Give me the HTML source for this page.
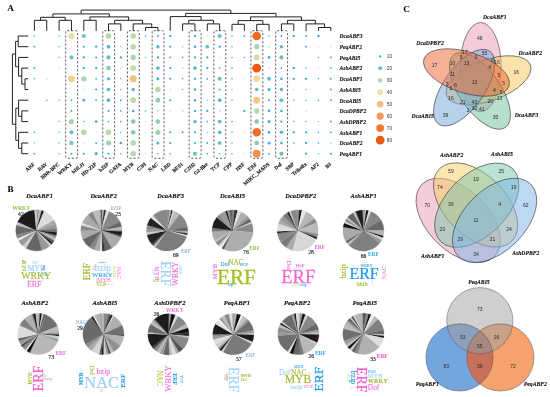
<!DOCTYPE html>
<html><head><meta charset="utf-8"><title>Figure</title>
<style>
html,body{margin:0;padding:0;background:#fff;}
body{width:550px;height:397px;overflow:hidden;}
svg{display:block;}
</style></head>
<body>
<svg width="550" height="397" viewBox="0 0 550 397">
<rect width="550" height="397" fill="#ffffff"/>
<g id="partA">
<rect x="65.70" y="30.7" width="11.9" height="127.6" rx="1.5" ry="1.5" fill="none" stroke="#4a4a4a" stroke-width="0.9" stroke-dasharray="2.1 1.9"/>
<rect x="102.75" y="30.7" width="11.9" height="127.6" rx="1.5" ry="1.5" fill="none" stroke="#4a4a4a" stroke-width="0.9" stroke-dasharray="2.1 1.9"/>
<rect x="127.45" y="30.7" width="11.9" height="127.6" rx="1.5" ry="1.5" fill="none" stroke="#4a4a4a" stroke-width="0.9" stroke-dasharray="2.1 1.9"/>
<rect x="152.15" y="30.7" width="11.9" height="127.6" rx="1.5" ry="1.5" fill="none" stroke="#4a4a4a" stroke-width="0.9" stroke-dasharray="2.1 1.9"/>
<rect x="189.20" y="30.7" width="11.9" height="127.6" rx="1.5" ry="1.5" fill="none" stroke="#4a4a4a" stroke-width="0.9" stroke-dasharray="2.1 1.9"/>
<rect x="213.90" y="30.7" width="11.9" height="127.6" rx="1.5" ry="1.5" fill="none" stroke="#4a4a4a" stroke-width="0.9" stroke-dasharray="2.1 1.9"/>
<rect x="250.95" y="30.7" width="11.9" height="127.6" rx="1.5" ry="1.5" fill="none" stroke="#4a4a4a" stroke-width="0.9" stroke-dasharray="2.1 1.9"/>
<rect x="275.65" y="30.7" width="11.9" height="127.6" rx="1.5" ry="1.5" fill="none" stroke="#4a4a4a" stroke-width="0.9" stroke-dasharray="2.1 1.9"/>
<circle cx="34.40" cy="36.00" r="0.74" fill="#2ca9e1" fill-opacity="1.00"/>
<circle cx="46.75" cy="36.00" r="0.40" fill="#2aabe2" fill-opacity="0.25"/>
<circle cx="59.10" cy="36.00" r="0.74" fill="#2ca9e1" fill-opacity="1.00"/>
<circle cx="71.45" cy="36.00" r="3.08" fill="#e6df9e" fill-opacity="1.00"/>
<circle cx="83.80" cy="36.00" r="2.05" fill="#6ac0c4" fill-opacity="1.00"/>
<circle cx="96.15" cy="36.00" r="0.49" fill="#2aaae2" fill-opacity="0.40"/>
<circle cx="108.50" cy="36.00" r="2.74" fill="#b4d9ac" fill-opacity="1.00"/>
<circle cx="120.85" cy="36.00" r="0.57" fill="#2aaae1" fill-opacity="0.60"/>
<circle cx="133.20" cy="36.00" r="2.83" fill="#c1daa8" fill-opacity="1.00"/>
<circle cx="145.55" cy="36.00" r="0.74" fill="#2ca9e1" fill-opacity="1.00"/>
<circle cx="157.90" cy="36.00" r="0.98" fill="#2da8e0" fill-opacity="1.00"/>
<circle cx="170.25" cy="36.00" r="1.15" fill="#2ea7e0" fill-opacity="1.00"/>
<circle cx="194.95" cy="36.00" r="1.15" fill="#2ea7e0" fill-opacity="1.00"/>
<circle cx="207.30" cy="36.00" r="0.57" fill="#2aaae1" fill-opacity="0.60"/>
<circle cx="219.65" cy="36.00" r="2.05" fill="#6ac0c4" fill-opacity="1.00"/>
<circle cx="232.00" cy="36.00" r="0.74" fill="#2ca9e1" fill-opacity="1.00"/>
<circle cx="244.35" cy="36.00" r="0.98" fill="#2da8e0" fill-opacity="1.00"/>
<circle cx="256.70" cy="36.00" r="4.36" fill="#ec6823" fill-opacity="1.00"/>
<circle cx="269.05" cy="36.00" r="0.74" fill="#2ca9e1" fill-opacity="1.00"/>
<circle cx="281.40" cy="36.00" r="0.98" fill="#2da8e0" fill-opacity="1.00"/>
<circle cx="293.75" cy="36.00" r="1.15" fill="#2ea7e0" fill-opacity="1.00"/>
<circle cx="306.10" cy="36.00" r="0.90" fill="#2ca8e1" fill-opacity="1.00"/>
<circle cx="318.45" cy="36.00" r="1.15" fill="#2ea7e0" fill-opacity="1.00"/>
<circle cx="34.40" cy="46.70" r="0.90" fill="#2ca8e1" fill-opacity="1.00"/>
<circle cx="59.10" cy="46.70" r="0.74" fill="#2ca9e1" fill-opacity="1.00"/>
<circle cx="71.45" cy="46.70" r="0.57" fill="#2aaae1" fill-opacity="0.60"/>
<circle cx="83.80" cy="46.70" r="0.98" fill="#2da8e0" fill-opacity="1.00"/>
<circle cx="96.15" cy="46.70" r="1.15" fill="#2ea7e0" fill-opacity="1.00"/>
<circle cx="108.50" cy="46.70" r="1.87" fill="#5ebbca" fill-opacity="1.00"/>
<circle cx="120.85" cy="46.70" r="0.65" fill="#2ba9e1" fill-opacity="0.80"/>
<circle cx="133.20" cy="46.70" r="2.74" fill="#b4d9ac" fill-opacity="1.00"/>
<circle cx="145.55" cy="46.70" r="0.49" fill="#2aaae2" fill-opacity="0.40"/>
<circle cx="157.90" cy="46.70" r="1.69" fill="#52b6cf" fill-opacity="1.00"/>
<circle cx="170.25" cy="46.70" r="0.98" fill="#2da8e0" fill-opacity="1.00"/>
<circle cx="182.60" cy="46.70" r="0.65" fill="#2ba9e1" fill-opacity="0.80"/>
<circle cx="194.95" cy="46.70" r="1.24" fill="#34aadd" fill-opacity="1.00"/>
<circle cx="207.30" cy="46.70" r="1.87" fill="#5ebbca" fill-opacity="1.00"/>
<circle cx="219.65" cy="46.70" r="1.15" fill="#2ea7e0" fill-opacity="1.00"/>
<circle cx="232.00" cy="46.70" r="0.74" fill="#2ca9e1" fill-opacity="1.00"/>
<circle cx="256.70" cy="46.70" r="2.60" fill="#a5d4b1" fill-opacity="1.00"/>
<circle cx="269.05" cy="46.70" r="0.65" fill="#2ba9e1" fill-opacity="0.80"/>
<circle cx="281.40" cy="46.70" r="1.78" fill="#58b8cc" fill-opacity="1.00"/>
<circle cx="306.10" cy="46.70" r="0.90" fill="#2ca8e1" fill-opacity="1.00"/>
<circle cx="318.45" cy="46.70" r="0.57" fill="#2aaae1" fill-opacity="0.60"/>
<circle cx="330.80" cy="46.70" r="0.57" fill="#2aaae1" fill-opacity="0.60"/>
<circle cx="34.40" cy="57.40" r="0.49" fill="#2aaae2" fill-opacity="0.40"/>
<circle cx="46.75" cy="57.40" r="0.49" fill="#2aaae2" fill-opacity="0.40"/>
<circle cx="59.10" cy="57.40" r="0.74" fill="#2ca9e1" fill-opacity="1.00"/>
<circle cx="71.45" cy="57.40" r="2.05" fill="#6ac0c4" fill-opacity="1.00"/>
<circle cx="83.80" cy="57.40" r="1.15" fill="#2ea7e0" fill-opacity="1.00"/>
<circle cx="96.15" cy="57.40" r="0.98" fill="#2da8e0" fill-opacity="1.00"/>
<circle cx="108.50" cy="57.40" r="2.05" fill="#6ac0c4" fill-opacity="1.00"/>
<circle cx="120.85" cy="57.40" r="1.15" fill="#2ea7e0" fill-opacity="1.00"/>
<circle cx="133.20" cy="57.40" r="2.60" fill="#a5d4b1" fill-opacity="1.00"/>
<circle cx="145.55" cy="57.40" r="0.65" fill="#2ba9e1" fill-opacity="0.80"/>
<circle cx="157.90" cy="57.40" r="1.15" fill="#2ea7e0" fill-opacity="1.00"/>
<circle cx="170.25" cy="57.40" r="0.90" fill="#2ca8e1" fill-opacity="1.00"/>
<circle cx="182.60" cy="57.40" r="0.82" fill="#2ca9e1" fill-opacity="1.00"/>
<circle cx="194.95" cy="57.40" r="1.07" fill="#2ea7e0" fill-opacity="1.00"/>
<circle cx="207.30" cy="57.40" r="1.07" fill="#2ea7e0" fill-opacity="1.00"/>
<circle cx="219.65" cy="57.40" r="0.57" fill="#2aaae1" fill-opacity="0.60"/>
<circle cx="232.00" cy="57.40" r="0.74" fill="#2ca9e1" fill-opacity="1.00"/>
<circle cx="244.35" cy="57.40" r="0.74" fill="#2ca9e1" fill-opacity="1.00"/>
<circle cx="256.70" cy="57.40" r="2.96" fill="#d4dca3" fill-opacity="1.00"/>
<circle cx="269.05" cy="57.40" r="1.33" fill="#3aacda" fill-opacity="1.00"/>
<circle cx="281.40" cy="57.40" r="2.05" fill="#6ac0c4" fill-opacity="1.00"/>
<circle cx="318.45" cy="57.40" r="0.74" fill="#2ca9e1" fill-opacity="1.00"/>
<circle cx="330.80" cy="57.40" r="0.90" fill="#2ca8e1" fill-opacity="1.00"/>
<circle cx="34.40" cy="68.10" r="0.98" fill="#2da8e0" fill-opacity="1.00"/>
<circle cx="59.10" cy="68.10" r="0.57" fill="#2aaae1" fill-opacity="0.60"/>
<circle cx="71.45" cy="68.10" r="0.49" fill="#2aaae2" fill-opacity="0.40"/>
<circle cx="83.80" cy="68.10" r="1.15" fill="#2ea7e0" fill-opacity="1.00"/>
<circle cx="96.15" cy="68.10" r="1.15" fill="#2ea7e0" fill-opacity="1.00"/>
<circle cx="108.50" cy="68.10" r="2.40" fill="#8fccb8" fill-opacity="1.00"/>
<circle cx="120.85" cy="68.10" r="0.65" fill="#2ba9e1" fill-opacity="0.80"/>
<circle cx="133.20" cy="68.10" r="2.87" fill="#c7dba7" fill-opacity="1.00"/>
<circle cx="145.55" cy="68.10" r="0.49" fill="#2aaae2" fill-opacity="0.40"/>
<circle cx="157.90" cy="68.10" r="1.87" fill="#5ebbca" fill-opacity="1.00"/>
<circle cx="170.25" cy="68.10" r="1.07" fill="#2ea7e0" fill-opacity="1.00"/>
<circle cx="182.60" cy="68.10" r="0.65" fill="#2ba9e1" fill-opacity="0.80"/>
<circle cx="194.95" cy="68.10" r="1.87" fill="#5ebbca" fill-opacity="1.00"/>
<circle cx="207.30" cy="68.10" r="1.15" fill="#2ea7e0" fill-opacity="1.00"/>
<circle cx="219.65" cy="68.10" r="0.82" fill="#2ca9e1" fill-opacity="1.00"/>
<circle cx="232.00" cy="68.10" r="0.82" fill="#2ca9e1" fill-opacity="1.00"/>
<circle cx="244.35" cy="68.10" r="0.49" fill="#2aaae2" fill-opacity="0.40"/>
<circle cx="256.70" cy="68.10" r="4.47" fill="#ea5a14" fill-opacity="1.00"/>
<circle cx="269.05" cy="68.10" r="0.65" fill="#2ba9e1" fill-opacity="0.80"/>
<circle cx="281.40" cy="68.10" r="0.90" fill="#2ca8e1" fill-opacity="1.00"/>
<circle cx="293.75" cy="68.10" r="1.24" fill="#34aadd" fill-opacity="1.00"/>
<circle cx="306.10" cy="68.10" r="0.74" fill="#2ca9e1" fill-opacity="1.00"/>
<circle cx="318.45" cy="68.10" r="0.57" fill="#2aaae1" fill-opacity="0.60"/>
<circle cx="330.80" cy="68.10" r="0.82" fill="#2ca9e1" fill-opacity="1.00"/>
<circle cx="34.40" cy="78.80" r="0.74" fill="#2ca9e1" fill-opacity="1.00"/>
<circle cx="46.75" cy="78.80" r="0.65" fill="#2ba9e1" fill-opacity="0.80"/>
<circle cx="71.45" cy="78.80" r="3.35" fill="#f4ce8b" fill-opacity="1.00"/>
<circle cx="83.80" cy="78.80" r="2.60" fill="#a5d4b1" fill-opacity="1.00"/>
<circle cx="96.15" cy="78.80" r="0.90" fill="#2ca8e1" fill-opacity="1.00"/>
<circle cx="108.50" cy="78.80" r="1.60" fill="#4cb4d2" fill-opacity="1.00"/>
<circle cx="120.85" cy="78.80" r="0.74" fill="#2ca9e1" fill-opacity="1.00"/>
<circle cx="133.20" cy="78.80" r="3.50" fill="#f5c07f" fill-opacity="1.00"/>
<circle cx="145.55" cy="78.80" r="0.49" fill="#2aaae2" fill-opacity="0.40"/>
<circle cx="157.90" cy="78.80" r="1.51" fill="#46b1d5" fill-opacity="1.00"/>
<circle cx="170.25" cy="78.80" r="1.07" fill="#2ea7e0" fill-opacity="1.00"/>
<circle cx="182.60" cy="78.80" r="0.82" fill="#2ca9e1" fill-opacity="1.00"/>
<circle cx="194.95" cy="78.80" r="1.15" fill="#2ea7e0" fill-opacity="1.00"/>
<circle cx="207.30" cy="78.80" r="0.90" fill="#2ca8e1" fill-opacity="1.00"/>
<circle cx="219.65" cy="78.80" r="2.05" fill="#6ac0c4" fill-opacity="1.00"/>
<circle cx="232.00" cy="78.80" r="0.82" fill="#2ca9e1" fill-opacity="1.00"/>
<circle cx="244.35" cy="78.80" r="0.57" fill="#2aaae1" fill-opacity="0.60"/>
<circle cx="256.70" cy="78.80" r="3.24" fill="#f3d994" fill-opacity="1.00"/>
<circle cx="269.05" cy="78.80" r="1.96" fill="#64bec7" fill-opacity="1.00"/>
<circle cx="281.40" cy="78.80" r="1.24" fill="#34aadd" fill-opacity="1.00"/>
<circle cx="293.75" cy="78.80" r="1.15" fill="#2ea7e0" fill-opacity="1.00"/>
<circle cx="306.10" cy="78.80" r="1.15" fill="#2ea7e0" fill-opacity="1.00"/>
<circle cx="318.45" cy="78.80" r="0.74" fill="#2ca9e1" fill-opacity="1.00"/>
<circle cx="330.80" cy="78.80" r="0.98" fill="#2da8e0" fill-opacity="1.00"/>
<circle cx="34.40" cy="89.50" r="0.49" fill="#2aaae2" fill-opacity="0.40"/>
<circle cx="46.75" cy="89.50" r="0.49" fill="#2aaae2" fill-opacity="0.40"/>
<circle cx="83.80" cy="89.50" r="0.57" fill="#2aaae1" fill-opacity="0.60"/>
<circle cx="96.15" cy="89.50" r="1.07" fill="#2ea7e0" fill-opacity="1.00"/>
<circle cx="108.50" cy="89.50" r="1.87" fill="#5ebbca" fill-opacity="1.00"/>
<circle cx="120.85" cy="89.50" r="0.74" fill="#2ca9e1" fill-opacity="1.00"/>
<circle cx="133.20" cy="89.50" r="1.78" fill="#58b8cc" fill-opacity="1.00"/>
<circle cx="157.90" cy="89.50" r="2.74" fill="#b4d9ac" fill-opacity="1.00"/>
<circle cx="170.25" cy="89.50" r="0.57" fill="#2aaae1" fill-opacity="0.60"/>
<circle cx="182.60" cy="89.50" r="0.65" fill="#2ba9e1" fill-opacity="0.80"/>
<circle cx="194.95" cy="89.50" r="1.24" fill="#34aadd" fill-opacity="1.00"/>
<circle cx="219.65" cy="89.50" r="0.98" fill="#2da8e0" fill-opacity="1.00"/>
<circle cx="232.00" cy="89.50" r="0.65" fill="#2ba9e1" fill-opacity="0.80"/>
<circle cx="244.35" cy="89.50" r="0.49" fill="#2aaae2" fill-opacity="0.40"/>
<circle cx="256.70" cy="89.50" r="1.78" fill="#58b8cc" fill-opacity="1.00"/>
<circle cx="269.05" cy="89.50" r="1.51" fill="#46b1d5" fill-opacity="1.00"/>
<circle cx="281.40" cy="89.50" r="1.69" fill="#52b6cf" fill-opacity="1.00"/>
<circle cx="293.75" cy="89.50" r="0.57" fill="#2aaae1" fill-opacity="0.60"/>
<circle cx="306.10" cy="89.50" r="0.65" fill="#2ba9e1" fill-opacity="0.80"/>
<circle cx="318.45" cy="89.50" r="0.49" fill="#2aaae2" fill-opacity="0.40"/>
<circle cx="330.80" cy="89.50" r="0.90" fill="#2ca8e1" fill-opacity="1.00"/>
<circle cx="46.75" cy="100.20" r="0.82" fill="#2ca9e1" fill-opacity="1.00"/>
<circle cx="59.10" cy="100.20" r="0.74" fill="#2ca9e1" fill-opacity="1.00"/>
<circle cx="71.45" cy="100.20" r="0.90" fill="#2ca8e1" fill-opacity="1.00"/>
<circle cx="83.80" cy="100.20" r="1.33" fill="#3aacda" fill-opacity="1.00"/>
<circle cx="96.15" cy="100.20" r="0.90" fill="#2ca8e1" fill-opacity="1.00"/>
<circle cx="108.50" cy="100.20" r="1.87" fill="#5ebbca" fill-opacity="1.00"/>
<circle cx="120.85" cy="100.20" r="0.90" fill="#2ca8e1" fill-opacity="1.00"/>
<circle cx="133.20" cy="100.20" r="2.83" fill="#c1daa8" fill-opacity="1.00"/>
<circle cx="145.55" cy="100.20" r="0.57" fill="#2aaae1" fill-opacity="0.60"/>
<circle cx="157.90" cy="100.20" r="2.46" fill="#96cfb6" fill-opacity="1.00"/>
<circle cx="170.25" cy="100.20" r="1.07" fill="#2ea7e0" fill-opacity="1.00"/>
<circle cx="194.95" cy="100.20" r="1.24" fill="#34aadd" fill-opacity="1.00"/>
<circle cx="207.30" cy="100.20" r="0.65" fill="#2ba9e1" fill-opacity="0.80"/>
<circle cx="219.65" cy="100.20" r="1.87" fill="#5ebbca" fill-opacity="1.00"/>
<circle cx="232.00" cy="100.20" r="0.74" fill="#2ca9e1" fill-opacity="1.00"/>
<circle cx="256.70" cy="100.20" r="3.43" fill="#f4c785" fill-opacity="1.00"/>
<circle cx="269.05" cy="100.20" r="0.98" fill="#2da8e0" fill-opacity="1.00"/>
<circle cx="281.40" cy="100.20" r="2.05" fill="#6ac0c4" fill-opacity="1.00"/>
<circle cx="293.75" cy="100.20" r="0.74" fill="#2ca9e1" fill-opacity="1.00"/>
<circle cx="306.10" cy="100.20" r="0.82" fill="#2ca9e1" fill-opacity="1.00"/>
<circle cx="318.45" cy="100.20" r="0.82" fill="#2ca9e1" fill-opacity="1.00"/>
<circle cx="330.80" cy="100.20" r="0.90" fill="#2ca8e1" fill-opacity="1.00"/>
<circle cx="59.10" cy="110.90" r="0.49" fill="#2aaae2" fill-opacity="0.40"/>
<circle cx="71.45" cy="110.90" r="0.98" fill="#2da8e0" fill-opacity="1.00"/>
<circle cx="96.15" cy="110.90" r="0.49" fill="#2aaae2" fill-opacity="0.40"/>
<circle cx="108.50" cy="110.90" r="0.98" fill="#2da8e0" fill-opacity="1.00"/>
<circle cx="120.85" cy="110.90" r="0.82" fill="#2ca9e1" fill-opacity="1.00"/>
<circle cx="133.20" cy="110.90" r="1.24" fill="#34aadd" fill-opacity="1.00"/>
<circle cx="145.55" cy="110.90" r="0.74" fill="#2ca9e1" fill-opacity="1.00"/>
<circle cx="157.90" cy="110.90" r="0.65" fill="#2ba9e1" fill-opacity="0.80"/>
<circle cx="170.25" cy="110.90" r="0.57" fill="#2aaae1" fill-opacity="0.60"/>
<circle cx="182.60" cy="110.90" r="0.65" fill="#2ba9e1" fill-opacity="0.80"/>
<circle cx="194.95" cy="110.90" r="1.15" fill="#2ea7e0" fill-opacity="1.00"/>
<circle cx="207.30" cy="110.90" r="1.15" fill="#2ea7e0" fill-opacity="1.00"/>
<circle cx="219.65" cy="110.90" r="0.65" fill="#2ba9e1" fill-opacity="0.80"/>
<circle cx="244.35" cy="110.90" r="1.15" fill="#2ea7e0" fill-opacity="1.00"/>
<circle cx="256.70" cy="110.90" r="2.74" fill="#b4d9ac" fill-opacity="1.00"/>
<circle cx="269.05" cy="110.90" r="1.33" fill="#3aacda" fill-opacity="1.00"/>
<circle cx="281.40" cy="110.90" r="1.24" fill="#34aadd" fill-opacity="1.00"/>
<circle cx="306.10" cy="110.90" r="0.57" fill="#2aaae1" fill-opacity="0.60"/>
<circle cx="318.45" cy="110.90" r="0.49" fill="#2aaae2" fill-opacity="0.40"/>
<circle cx="330.80" cy="110.90" r="0.49" fill="#2aaae2" fill-opacity="0.40"/>
<circle cx="34.40" cy="121.60" r="0.49" fill="#2aaae2" fill-opacity="0.40"/>
<circle cx="46.75" cy="121.60" r="0.49" fill="#2aaae2" fill-opacity="0.40"/>
<circle cx="59.10" cy="121.60" r="0.74" fill="#2ca9e1" fill-opacity="1.00"/>
<circle cx="71.45" cy="121.60" r="2.60" fill="#a5d4b1" fill-opacity="1.00"/>
<circle cx="83.80" cy="121.60" r="0.74" fill="#2ca9e1" fill-opacity="1.00"/>
<circle cx="96.15" cy="121.60" r="1.33" fill="#3aacda" fill-opacity="1.00"/>
<circle cx="108.50" cy="121.60" r="0.82" fill="#2ca9e1" fill-opacity="1.00"/>
<circle cx="120.85" cy="121.60" r="0.82" fill="#2ca9e1" fill-opacity="1.00"/>
<circle cx="133.20" cy="121.60" r="2.33" fill="#88caba" fill-opacity="1.00"/>
<circle cx="145.55" cy="121.60" r="0.57" fill="#2aaae1" fill-opacity="0.60"/>
<circle cx="157.90" cy="121.60" r="2.40" fill="#8fccb8" fill-opacity="1.00"/>
<circle cx="170.25" cy="121.60" r="0.49" fill="#2aaae2" fill-opacity="0.40"/>
<circle cx="194.95" cy="121.60" r="1.60" fill="#4cb4d2" fill-opacity="1.00"/>
<circle cx="207.30" cy="121.60" r="0.82" fill="#2ca9e1" fill-opacity="1.00"/>
<circle cx="219.65" cy="121.60" r="1.87" fill="#5ebbca" fill-opacity="1.00"/>
<circle cx="232.00" cy="121.60" r="0.82" fill="#2ca9e1" fill-opacity="1.00"/>
<circle cx="256.70" cy="121.60" r="2.26" fill="#80c8bd" fill-opacity="1.00"/>
<circle cx="269.05" cy="121.60" r="1.51" fill="#46b1d5" fill-opacity="1.00"/>
<circle cx="281.40" cy="121.60" r="1.15" fill="#2ea7e0" fill-opacity="1.00"/>
<circle cx="293.75" cy="121.60" r="0.74" fill="#2ca9e1" fill-opacity="1.00"/>
<circle cx="306.10" cy="121.60" r="0.74" fill="#2ca9e1" fill-opacity="1.00"/>
<circle cx="318.45" cy="121.60" r="0.65" fill="#2ba9e1" fill-opacity="0.80"/>
<circle cx="330.80" cy="121.60" r="0.98" fill="#2da8e0" fill-opacity="1.00"/>
<circle cx="34.40" cy="132.30" r="0.82" fill="#2ca9e1" fill-opacity="1.00"/>
<circle cx="59.10" cy="132.30" r="0.74" fill="#2ca9e1" fill-opacity="1.00"/>
<circle cx="71.45" cy="132.30" r="2.05" fill="#6ac0c4" fill-opacity="1.00"/>
<circle cx="83.80" cy="132.30" r="2.74" fill="#b4d9ac" fill-opacity="1.00"/>
<circle cx="96.15" cy="132.30" r="0.57" fill="#2aaae1" fill-opacity="0.60"/>
<circle cx="108.50" cy="132.30" r="2.83" fill="#c1daa8" fill-opacity="1.00"/>
<circle cx="120.85" cy="132.30" r="0.74" fill="#2ca9e1" fill-opacity="1.00"/>
<circle cx="133.20" cy="132.30" r="2.40" fill="#8fccb8" fill-opacity="1.00"/>
<circle cx="145.55" cy="132.30" r="0.57" fill="#2aaae1" fill-opacity="0.60"/>
<circle cx="157.90" cy="132.30" r="2.60" fill="#a5d4b1" fill-opacity="1.00"/>
<circle cx="170.25" cy="132.30" r="1.07" fill="#2ea7e0" fill-opacity="1.00"/>
<circle cx="182.60" cy="132.30" r="0.98" fill="#2da8e0" fill-opacity="1.00"/>
<circle cx="194.95" cy="132.30" r="1.07" fill="#2ea7e0" fill-opacity="1.00"/>
<circle cx="207.30" cy="132.30" r="0.65" fill="#2ba9e1" fill-opacity="0.80"/>
<circle cx="219.65" cy="132.30" r="1.87" fill="#5ebbca" fill-opacity="1.00"/>
<circle cx="232.00" cy="132.30" r="0.74" fill="#2ca9e1" fill-opacity="1.00"/>
<circle cx="244.35" cy="132.30" r="0.57" fill="#2aaae1" fill-opacity="0.60"/>
<circle cx="256.70" cy="132.30" r="4.30" fill="#ee6e2b" fill-opacity="1.00"/>
<circle cx="269.05" cy="132.30" r="1.33" fill="#3aacda" fill-opacity="1.00"/>
<circle cx="281.40" cy="132.30" r="1.69" fill="#52b6cf" fill-opacity="1.00"/>
<circle cx="293.75" cy="132.30" r="1.15" fill="#2ea7e0" fill-opacity="1.00"/>
<circle cx="306.10" cy="132.30" r="1.15" fill="#2ea7e0" fill-opacity="1.00"/>
<circle cx="318.45" cy="132.30" r="0.74" fill="#2ca9e1" fill-opacity="1.00"/>
<circle cx="330.80" cy="132.30" r="0.90" fill="#2ca8e1" fill-opacity="1.00"/>
<circle cx="34.40" cy="143.00" r="0.65" fill="#2ba9e1" fill-opacity="0.80"/>
<circle cx="59.10" cy="143.00" r="0.74" fill="#2ca9e1" fill-opacity="1.00"/>
<circle cx="71.45" cy="143.00" r="2.19" fill="#79c5bf" fill-opacity="1.00"/>
<circle cx="83.80" cy="143.00" r="0.57" fill="#2aaae1" fill-opacity="0.60"/>
<circle cx="96.15" cy="143.00" r="0.90" fill="#2ca8e1" fill-opacity="1.00"/>
<circle cx="108.50" cy="143.00" r="2.53" fill="#9ed2b3" fill-opacity="1.00"/>
<circle cx="120.85" cy="143.00" r="1.33" fill="#3aacda" fill-opacity="1.00"/>
<circle cx="133.20" cy="143.00" r="2.74" fill="#b4d9ac" fill-opacity="1.00"/>
<circle cx="157.90" cy="143.00" r="1.51" fill="#46b1d5" fill-opacity="1.00"/>
<circle cx="170.25" cy="143.00" r="1.07" fill="#2ea7e0" fill-opacity="1.00"/>
<circle cx="194.95" cy="143.00" r="0.98" fill="#2da8e0" fill-opacity="1.00"/>
<circle cx="207.30" cy="143.00" r="0.90" fill="#2ca8e1" fill-opacity="1.00"/>
<circle cx="219.65" cy="143.00" r="1.87" fill="#5ebbca" fill-opacity="1.00"/>
<circle cx="232.00" cy="143.00" r="0.74" fill="#2ca9e1" fill-opacity="1.00"/>
<circle cx="256.70" cy="143.00" r="2.33" fill="#88caba" fill-opacity="1.00"/>
<circle cx="269.05" cy="143.00" r="1.51" fill="#46b1d5" fill-opacity="1.00"/>
<circle cx="281.40" cy="143.00" r="1.24" fill="#34aadd" fill-opacity="1.00"/>
<circle cx="293.75" cy="143.00" r="0.82" fill="#2ca9e1" fill-opacity="1.00"/>
<circle cx="306.10" cy="143.00" r="1.15" fill="#2ea7e0" fill-opacity="1.00"/>
<circle cx="318.45" cy="143.00" r="0.82" fill="#2ca9e1" fill-opacity="1.00"/>
<circle cx="330.80" cy="143.00" r="0.65" fill="#2ba9e1" fill-opacity="0.80"/>
<circle cx="34.40" cy="153.70" r="0.90" fill="#2ca8e1" fill-opacity="1.00"/>
<circle cx="59.10" cy="153.70" r="0.74" fill="#2ca9e1" fill-opacity="1.00"/>
<circle cx="71.45" cy="153.70" r="0.98" fill="#2da8e0" fill-opacity="1.00"/>
<circle cx="83.80" cy="153.70" r="1.07" fill="#2ea7e0" fill-opacity="1.00"/>
<circle cx="96.15" cy="153.70" r="1.60" fill="#4cb4d2" fill-opacity="1.00"/>
<circle cx="108.50" cy="153.70" r="1.07" fill="#2ea7e0" fill-opacity="1.00"/>
<circle cx="120.85" cy="153.70" r="0.82" fill="#2ca9e1" fill-opacity="1.00"/>
<circle cx="133.20" cy="153.70" r="2.74" fill="#b4d9ac" fill-opacity="1.00"/>
<circle cx="145.55" cy="153.70" r="0.57" fill="#2aaae1" fill-opacity="0.60"/>
<circle cx="157.90" cy="153.70" r="0.74" fill="#2ca9e1" fill-opacity="1.00"/>
<circle cx="170.25" cy="153.70" r="0.82" fill="#2ca9e1" fill-opacity="1.00"/>
<circle cx="194.95" cy="153.70" r="2.05" fill="#6ac0c4" fill-opacity="1.00"/>
<circle cx="207.30" cy="153.70" r="0.82" fill="#2ca9e1" fill-opacity="1.00"/>
<circle cx="219.65" cy="153.70" r="0.82" fill="#2ca9e1" fill-opacity="1.00"/>
<circle cx="232.00" cy="153.70" r="0.74" fill="#2ca9e1" fill-opacity="1.00"/>
<circle cx="244.35" cy="153.70" r="0.57" fill="#2aaae1" fill-opacity="0.60"/>
<circle cx="256.70" cy="153.70" r="3.97" fill="#f19252" fill-opacity="1.00"/>
<circle cx="269.05" cy="153.70" r="0.90" fill="#2ca8e1" fill-opacity="1.00"/>
<circle cx="281.40" cy="153.70" r="2.05" fill="#6ac0c4" fill-opacity="1.00"/>
<circle cx="306.10" cy="153.70" r="1.15" fill="#2ea7e0" fill-opacity="1.00"/>
<circle cx="318.45" cy="153.70" r="0.65" fill="#2ba9e1" fill-opacity="0.80"/>
<circle cx="330.80" cy="153.70" r="1.07" fill="#2ea7e0" fill-opacity="1.00"/>
<path d="M34.40 30.90V20.30H46.75V30.90M59.10 30.90V20.30H71.45V30.90M40.58 20.30V17.30H65.27V20.30M83.80 30.90V20.30H96.15V30.90M108.50 30.90V23.90H120.85V30.90M145.55 30.90V27.50H157.90V30.90M133.20 30.90V23.90H151.72V27.50M114.67 23.90V20.30H142.46V23.90M89.97 20.30V16.90H128.57V20.30M52.92 17.30V13.90H109.27V16.90M182.60 30.90V23.90H194.95V30.90M207.30 30.90V23.90H219.65V30.90M188.77 23.90V20.30H213.48V23.90M170.25 30.90V16.60H201.12V20.30M232.00 30.90V24.30H244.35V30.90M256.70 30.90V24.30H269.05V30.90M238.18 24.30V20.60H262.88V24.30M281.40 30.90V23.90H293.75V30.90M318.45 30.90V27.50H330.80V30.90M306.10 30.90V23.90H324.62V27.50M287.57 23.90V20.30H315.36V23.90M250.53 20.60V16.90H301.47V20.30M185.69 16.60V13.40H276.00V16.90M81.10 13.90V10.10H230.84V13.40" fill="none" stroke="#222" stroke-width="1.0" stroke-linejoin="miter"/>
<path d="M28.20 36.00H18.20V46.70H28.20M28.20 78.80H25.00V89.50H28.20M28.20 68.10H21.80V84.15H25.00M28.20 57.40H18.60V76.12H21.80M18.20 41.35H15.60V66.76H18.60M28.20 110.90H21.80V121.60H28.20M28.20 100.20H18.60V116.25H21.80M28.20 143.00H21.80V153.70H28.20M28.20 132.30H18.60V148.35H21.80M18.60 108.22H15.80V140.32H18.60M15.60 54.06H12.40V124.27H15.80" fill="none" stroke="#222" stroke-width="1.0" stroke-linejoin="miter"/>
<text x="339.6" y="38.30" font-family='"Liberation Serif", serif' font-size="5.5" font-weight="bold" font-style="italic" fill="#111" stroke="#111" stroke-width="0.12">DcaABF3</text>
<text x="339.6" y="49.00" font-family='"Liberation Serif", serif' font-size="5.5" font-weight="bold" font-style="italic" fill="#111" stroke="#111" stroke-width="0.12">PeqABF2</text>
<text x="339.6" y="59.70" font-family='"Liberation Serif", serif' font-size="5.5" font-weight="bold" font-style="italic" fill="#111" stroke="#111" stroke-width="0.12">PeqABI5</text>
<text x="339.6" y="70.40" font-family='"Liberation Serif", serif' font-size="5.5" font-weight="bold" font-style="italic" fill="#111" stroke="#111" stroke-width="0.12">AshABF2</text>
<text x="339.6" y="81.10" font-family='"Liberation Serif", serif' font-size="5.5" font-weight="bold" font-style="italic" fill="#111" stroke="#111" stroke-width="0.12">DcaABF1</text>
<text x="339.6" y="91.80" font-family='"Liberation Serif", serif' font-size="5.5" font-weight="bold" font-style="italic" fill="#111" stroke="#111" stroke-width="0.12">AshABI5</text>
<text x="339.6" y="102.50" font-family='"Liberation Serif", serif' font-size="5.5" font-weight="bold" font-style="italic" fill="#111" stroke="#111" stroke-width="0.12">DcaABI5</text>
<text x="339.6" y="113.20" font-family='"Liberation Serif", serif' font-size="5.5" font-weight="bold" font-style="italic" fill="#111" stroke="#111" stroke-width="0.12">DcaDPBF2</text>
<text x="339.6" y="123.90" font-family='"Liberation Serif", serif' font-size="5.5" font-weight="bold" font-style="italic" fill="#111" stroke="#111" stroke-width="0.12">AshDPBF2</text>
<text x="339.6" y="134.60" font-family='"Liberation Serif", serif' font-size="5.5" font-weight="bold" font-style="italic" fill="#111" stroke="#111" stroke-width="0.12">AshABF1</text>
<text x="339.6" y="145.30" font-family='"Liberation Serif", serif' font-size="5.5" font-weight="bold" font-style="italic" fill="#111" stroke="#111" stroke-width="0.12">DcaABF2</text>
<text x="339.6" y="156.00" font-family='"Liberation Serif", serif' font-size="5.5" font-weight="bold" font-style="italic" fill="#111" stroke="#111" stroke-width="0.12">PeqABF1</text>
<text transform="translate(35.20 164.80) rotate(-40)" text-anchor="end" font-family='"Liberation Serif", serif' font-size="5.2" font-weight="bold" fill="#111" stroke="#111" stroke-width="0.12">ARF</text>
<text transform="translate(47.55 164.80) rotate(-40)" text-anchor="end" font-family='"Liberation Serif", serif' font-size="5.2" font-weight="bold" fill="#111" stroke="#111" stroke-width="0.12">RAV</text>
<text transform="translate(59.90 164.80) rotate(-40)" text-anchor="end" font-family='"Liberation Serif", serif' font-size="5.2" font-weight="bold" fill="#111" stroke="#111" stroke-width="0.12">BBR-BPC</text>
<text transform="translate(72.25 164.80) rotate(-40)" text-anchor="end" font-family='"Liberation Serif", serif' font-size="5.2" font-weight="bold" fill="#111" stroke="#111" stroke-width="0.12">WRKY</text>
<text transform="translate(84.60 164.80) rotate(-40)" text-anchor="end" font-family='"Liberation Serif", serif' font-size="5.2" font-weight="bold" fill="#111" stroke="#111" stroke-width="0.12">bHLH</text>
<text transform="translate(96.95 164.80) rotate(-40)" text-anchor="end" font-family='"Liberation Serif", serif' font-size="5.2" font-weight="bold" fill="#111" stroke="#111" stroke-width="0.12">HD-ZIP</text>
<text transform="translate(109.30 164.80) rotate(-40)" text-anchor="end" font-family='"Liberation Serif", serif' font-size="5.2" font-weight="bold" fill="#111" stroke="#111" stroke-width="0.12">bZIP</text>
<text transform="translate(121.65 164.80) rotate(-40)" text-anchor="end" font-family='"Liberation Serif", serif' font-size="5.2" font-weight="bold" fill="#111" stroke="#111" stroke-width="0.12">GATA</text>
<text transform="translate(134.00 164.80) rotate(-40)" text-anchor="end" font-family='"Liberation Serif", serif' font-size="5.2" font-weight="bold" fill="#111" stroke="#111" stroke-width="0.12">MYB</text>
<text transform="translate(146.35 164.80) rotate(-40)" text-anchor="end" font-family='"Liberation Serif", serif' font-size="5.2" font-weight="bold" fill="#111" stroke="#111" stroke-width="0.12">C3H</text>
<text transform="translate(158.70 164.80) rotate(-40)" text-anchor="end" font-family='"Liberation Serif", serif' font-size="5.2" font-weight="bold" fill="#111" stroke="#111" stroke-width="0.12">NAC</text>
<text transform="translate(171.05 164.80) rotate(-40)" text-anchor="end" font-family='"Liberation Serif", serif' font-size="5.2" font-weight="bold" fill="#111" stroke="#111" stroke-width="0.12">LBD</text>
<text transform="translate(183.40 164.80) rotate(-40)" text-anchor="end" font-family='"Liberation Serif", serif' font-size="5.2" font-weight="bold" fill="#111" stroke="#111" stroke-width="0.12">BES1</text>
<text transform="translate(195.75 164.80) rotate(-40)" text-anchor="end" font-family='"Liberation Serif", serif' font-size="5.2" font-weight="bold" fill="#111" stroke="#111" stroke-width="0.12">C2H2</text>
<text transform="translate(208.10 164.80) rotate(-40)" text-anchor="end" font-family='"Liberation Serif", serif' font-size="5.2" font-weight="bold" fill="#111" stroke="#111" stroke-width="0.12">G2-like</text>
<text transform="translate(220.45 164.80) rotate(-40)" text-anchor="end" font-family='"Liberation Serif", serif' font-size="5.2" font-weight="bold" fill="#111" stroke="#111" stroke-width="0.12">TCP</text>
<text transform="translate(232.80 164.80) rotate(-40)" text-anchor="end" font-family='"Liberation Serif", serif' font-size="5.2" font-weight="bold" fill="#111" stroke="#111" stroke-width="0.12">CPP</text>
<text transform="translate(245.15 164.80) rotate(-40)" text-anchor="end" font-family='"Liberation Serif", serif' font-size="5.2" font-weight="bold" fill="#111" stroke="#111" stroke-width="0.12">HSF</text>
<text transform="translate(257.50 164.80) rotate(-40)" text-anchor="end" font-family='"Liberation Serif", serif' font-size="5.2" font-weight="bold" fill="#111" stroke="#111" stroke-width="0.12">ERF</text>
<text transform="translate(269.85 164.80) rotate(-40)" text-anchor="end" font-family='"Liberation Serif", serif' font-size="5.2" font-weight="bold" fill="#111" stroke="#111" stroke-width="0.12">MIKC_MADS</text>
<text transform="translate(282.20 164.80) rotate(-40)" text-anchor="end" font-family='"Liberation Serif", serif' font-size="5.2" font-weight="bold" fill="#111" stroke="#111" stroke-width="0.12">Dof</text>
<text transform="translate(294.55 164.80) rotate(-40)" text-anchor="end" font-family='"Liberation Serif", serif' font-size="5.2" font-weight="bold" fill="#111" stroke="#111" stroke-width="0.12">SBP</text>
<text transform="translate(306.90 164.80) rotate(-40)" text-anchor="end" font-family='"Liberation Serif", serif' font-size="5.2" font-weight="bold" fill="#111" stroke="#111" stroke-width="0.12">Trihelix</text>
<text transform="translate(319.25 164.80) rotate(-40)" text-anchor="end" font-family='"Liberation Serif", serif' font-size="5.2" font-weight="bold" fill="#111" stroke="#111" stroke-width="0.12">AP2</text>
<text transform="translate(331.60 164.80) rotate(-40)" text-anchor="end" font-family='"Liberation Serif", serif' font-size="5.2" font-weight="bold" fill="#111" stroke="#111" stroke-width="0.12">B3</text>
<circle cx="380.2" cy="56.40" r="1.15" fill="#2ea7e0"/>
<text x="386.8" y="58.10" font-family='"Liberation Sans", sans-serif' font-size="4.8" fill="#333">10</text>
<circle cx="380.2" cy="68.35" r="2.00" fill="#6ac0c4"/>
<text x="386.8" y="70.05" font-family='"Liberation Sans", sans-serif' font-size="4.8" fill="#333">20</text>
<circle cx="380.2" cy="80.30" r="2.35" fill="#b4d9ac"/>
<text x="386.8" y="82.00" font-family='"Liberation Sans", sans-serif' font-size="4.8" fill="#333">30</text>
<circle cx="380.2" cy="92.25" r="2.80" fill="#f3e09a"/>
<text x="386.8" y="93.95" font-family='"Liberation Sans", sans-serif' font-size="4.8" fill="#333">40</text>
<circle cx="380.2" cy="104.20" r="3.30" fill="#f5bc7c"/>
<text x="386.8" y="105.90" font-family='"Liberation Sans", sans-serif' font-size="4.8" fill="#333">50</text>
<circle cx="380.2" cy="116.15" r="3.60" fill="#f29c5c"/>
<text x="386.8" y="117.85" font-family='"Liberation Sans", sans-serif' font-size="4.8" fill="#333">60</text>
<circle cx="380.2" cy="128.10" r="3.90" fill="#f07c3a"/>
<text x="386.8" y="129.80" font-family='"Liberation Sans", sans-serif' font-size="4.8" fill="#333">70</text>
<circle cx="380.2" cy="140.05" r="4.40" fill="#ea5a14"/>
<text x="386.8" y="141.75" font-family='"Liberation Sans", sans-serif' font-size="4.8" fill="#333">80</text>
</g>
<text x="7.3" y="10.6" font-family='"Liberation Serif", serif' font-size="9.2" font-weight="bold" fill="#000">A</text>
<text x="7.5" y="191.8" font-family='"Liberation Serif", serif' font-size="9.2" font-weight="bold" fill="#000">B</text>
<text x="403.2" y="12.4" font-family='"Liberation Serif", serif' font-size="9.2" font-weight="bold" fill="#000">C</text>
<g id="partB">
<g>
<path d="M36.30 230.40L36.30 209.80A20.60 20.60 0 0 1 39.17 210.00Z" fill="#999" stroke="#999" stroke-width="0.25"/>
<path d="M36.30 230.40L39.17 210.00A20.60 20.60 0 0 1 41.63 210.50Z" fill="#bbb" stroke="#bbb" stroke-width="0.25"/>
<path d="M36.30 230.40L41.63 210.50A20.60 20.60 0 0 1 44.02 211.30Z" fill="#1c1c1c" stroke="#1c1c1c" stroke-width="0.25"/>
<path d="M36.30 230.40L44.02 211.30A20.60 20.60 0 0 1 54.14 220.10Z" fill="#dcdcdc" stroke="#dcdcdc" stroke-width="0.25"/>
<path d="M36.30 230.40L54.14 220.10A20.60 20.60 0 0 1 55.89 224.03Z" fill="#aaa" stroke="#aaa" stroke-width="0.25"/>
<path d="M36.30 230.40L55.89 224.03A20.60 20.60 0 0 1 56.82 228.60Z" fill="#999" stroke="#999" stroke-width="0.25"/>
<path d="M36.30 230.40L56.82 228.60A20.60 20.60 0 0 1 56.82 232.20Z" fill="#777" stroke="#777" stroke-width="0.25"/>
<path d="M36.30 230.40L56.82 232.20A20.60 20.60 0 0 1 56.20 235.73Z" fill="#222" stroke="#222" stroke-width="0.25"/>
<path d="M36.30 230.40L56.20 235.73A20.60 20.60 0 0 1 55.40 238.12Z" fill="#888" stroke="#888" stroke-width="0.25"/>
<path d="M36.30 230.40L55.40 238.12A20.60 20.60 0 0 1 54.14 240.70Z" fill="#bbb" stroke="#bbb" stroke-width="0.25"/>
<path d="M36.30 230.40L54.14 240.70A20.60 20.60 0 0 1 52.53 243.08Z" fill="#555" stroke="#555" stroke-width="0.25"/>
<path d="M36.30 230.40L52.53 243.08A20.60 20.60 0 0 1 51.37 244.45Z" fill="#111" stroke="#111" stroke-width="0.25"/>
<path d="M36.30 230.40L51.37 244.45A20.60 20.60 0 0 1 49.54 246.18Z" fill="#ccc" stroke="#ccc" stroke-width="0.25"/>
<path d="M36.30 230.40L49.54 246.18A20.60 20.60 0 0 1 41.63 250.30Z" fill="#999" stroke="#999" stroke-width="0.25"/>
<path d="M36.30 230.40L41.63 250.30A20.60 20.60 0 0 1 26.00 248.24Z" fill="#666" stroke="#666" stroke-width="0.25"/>
<path d="M36.30 230.40L26.00 248.24A20.60 20.60 0 0 1 22.52 245.71Z" fill="#ccc" stroke="#ccc" stroke-width="0.25"/>
<path d="M36.30 230.40L22.52 245.71A20.60 20.60 0 0 1 18.46 240.70Z" fill="#999" stroke="#999" stroke-width="0.25"/>
<path d="M36.30 230.40L18.46 240.70A20.60 20.60 0 0 1 17.34 238.45Z" fill="#eee" stroke="#eee" stroke-width="0.25"/>
<path d="M36.30 230.40L17.34 238.45A20.60 20.60 0 0 1 16.15 234.68Z" fill="#888" stroke="#888" stroke-width="0.25"/>
<path d="M36.30 230.40L16.15 234.68A20.60 20.60 0 0 1 16.40 225.07Z" fill="#666" stroke="#666" stroke-width="0.25"/>
<path d="M36.30 230.40L16.40 225.07A20.60 20.60 0 0 1 17.63 221.69Z" fill="#bbb" stroke="#bbb" stroke-width="0.25"/>
<path d="M36.30 230.40L17.63 221.69A20.60 20.60 0 0 1 34.50 209.88Z" fill="#1c1c1c" stroke="#1c1c1c" stroke-width="0.25"/>
<path d="M36.30 230.40L34.50 209.88A20.60 20.60 0 0 1 36.30 209.80Z" fill="#ccc" stroke="#ccc" stroke-width="0.25"/>
</g>
<g>
<path d="M101.40 230.50L101.40 209.90A20.60 20.60 0 0 1 102.48 209.93Z" fill="#444" stroke="#444" stroke-width="0.25"/>
<path d="M101.40 230.50L102.48 209.93A20.60 20.60 0 0 1 104.27 210.10Z" fill="#aaa" stroke="#aaa" stroke-width="0.25"/>
<path d="M101.40 230.50L104.27 210.10A20.60 20.60 0 0 1 106.03 210.43Z" fill="#222" stroke="#222" stroke-width="0.25"/>
<path d="M101.40 230.50L106.03 210.43A20.60 20.60 0 0 1 107.77 210.91Z" fill="#ccc" stroke="#ccc" stroke-width="0.25"/>
<path d="M101.40 230.50L107.77 210.91A20.60 20.60 0 0 1 109.12 211.40Z" fill="#eee" stroke="#eee" stroke-width="0.25"/>
<path d="M101.40 230.50L109.12 211.40A20.60 20.60 0 0 1 120.07 221.79Z" fill="#888" stroke="#888" stroke-width="0.25"/>
<path d="M101.40 230.50L120.07 221.79A20.60 20.60 0 0 1 121.69 226.92Z" fill="#666" stroke="#666" stroke-width="0.25"/>
<path d="M101.40 230.50L121.69 226.92A20.60 20.60 0 0 1 121.99 229.78Z" fill="#bbb" stroke="#bbb" stroke-width="0.25"/>
<path d="M101.40 230.50L121.99 229.78A20.60 20.60 0 0 1 121.97 231.58Z" fill="#999" stroke="#999" stroke-width="0.25"/>
<path d="M101.40 230.50L121.97 231.58A20.60 20.60 0 0 1 121.30 235.83Z" fill="#1c1c1c" stroke="#1c1c1c" stroke-width="0.25"/>
<path d="M101.40 230.50L121.30 235.83A20.60 20.60 0 0 1 120.76 237.55Z" fill="#555" stroke="#555" stroke-width="0.25"/>
<path d="M101.40 230.50L120.76 237.55A20.60 20.60 0 0 1 111.70 248.34Z" fill="#aaa" stroke="#aaa" stroke-width="0.25"/>
<path d="M101.40 230.50L111.70 248.34A20.60 20.60 0 0 1 104.98 250.79Z" fill="#666" stroke="#666" stroke-width="0.25"/>
<path d="M101.40 230.50L104.98 250.79A20.60 20.60 0 0 1 102.12 251.09Z" fill="#333" stroke="#333" stroke-width="0.25"/>
<path d="M101.40 230.50L102.12 251.09A20.60 20.60 0 0 1 99.60 251.02Z" fill="#ddd" stroke="#ddd" stroke-width="0.25"/>
<path d="M101.40 230.50L99.60 251.02A20.60 20.60 0 0 1 94.35 249.86Z" fill="#aaa" stroke="#aaa" stroke-width="0.25"/>
<path d="M101.40 230.50L94.35 249.86A20.60 20.60 0 0 1 89.58 247.37Z" fill="#888" stroke="#888" stroke-width="0.25"/>
<path d="M101.40 230.50L89.58 247.37A20.60 20.60 0 0 1 82.73 239.21Z" fill="#666" stroke="#666" stroke-width="0.25"/>
<path d="M101.40 230.50L82.73 239.21A20.60 20.60 0 0 1 80.80 230.50Z" fill="#aaa" stroke="#aaa" stroke-width="0.25"/>
<path d="M101.40 230.50L80.80 230.50A20.60 20.60 0 0 1 81.50 225.17Z" fill="#888" stroke="#888" stroke-width="0.25"/>
<path d="M101.40 230.50L81.50 225.17A20.60 20.60 0 0 1 82.30 222.78Z" fill="#ddd" stroke="#ddd" stroke-width="0.25"/>
<path d="M101.40 230.50L82.30 222.78A20.60 20.60 0 0 1 88.16 214.72Z" fill="#aaa" stroke="#aaa" stroke-width="0.25"/>
<path d="M101.40 230.50L88.16 214.72A20.60 20.60 0 0 1 92.69 211.83Z" fill="#888" stroke="#888" stroke-width="0.25"/>
<path d="M101.40 230.50L92.69 211.83A20.60 20.60 0 0 1 100.68 209.91Z" fill="#bbb" stroke="#bbb" stroke-width="0.25"/>
<path d="M101.40 230.50L100.68 209.91A20.60 20.60 0 0 1 101.40 209.90Z" fill="#444" stroke="#444" stroke-width="0.25"/>
</g>
<g>
<path d="M167.10 230.50L167.10 209.90A20.60 20.60 0 0 1 169.97 210.10Z" fill="#888" stroke="#888" stroke-width="0.25"/>
<path d="M167.10 230.50L169.97 210.10A20.60 20.60 0 0 1 171.38 210.35Z" fill="#bbb" stroke="#bbb" stroke-width="0.25"/>
<path d="M167.10 230.50L171.38 210.35A20.60 20.60 0 0 1 172.78 210.70Z" fill="#111" stroke="#111" stroke-width="0.25"/>
<path d="M167.10 230.50L172.78 210.70A20.60 20.60 0 0 1 174.15 211.14Z" fill="#ddd" stroke="#ddd" stroke-width="0.25"/>
<path d="M167.10 230.50L174.15 211.14A20.60 20.60 0 0 1 179.78 214.27Z" fill="#bbb" stroke="#bbb" stroke-width="0.25"/>
<path d="M167.10 230.50L179.78 214.27A20.60 20.60 0 0 1 187.39 226.92Z" fill="#888" stroke="#888" stroke-width="0.25"/>
<path d="M167.10 230.50L187.39 226.92A20.60 20.60 0 0 1 187.69 231.22Z" fill="#666" stroke="#666" stroke-width="0.25"/>
<path d="M167.10 230.50L187.69 231.22A20.60 20.60 0 0 1 187.50 233.37Z" fill="#aaa" stroke="#aaa" stroke-width="0.25"/>
<path d="M167.10 230.50L187.50 233.37A20.60 20.60 0 0 1 187.09 235.48Z" fill="#444" stroke="#444" stroke-width="0.25"/>
<path d="M167.10 230.50L187.09 235.48A20.60 20.60 0 0 1 186.69 236.87Z" fill="#eee" stroke="#eee" stroke-width="0.25"/>
<path d="M167.10 230.50L186.69 236.87A20.60 20.60 0 0 1 155.28 247.37Z" fill="#7c7c7c" stroke="#7c7c7c" stroke-width="0.25"/>
<path d="M167.10 230.50L155.28 247.37A20.60 20.60 0 0 1 153.32 245.81Z" fill="#bbb" stroke="#bbb" stroke-width="0.25"/>
<path d="M167.10 230.50L153.32 245.81A20.60 20.60 0 0 1 151.79 244.28Z" fill="#555" stroke="#555" stroke-width="0.25"/>
<path d="M167.10 230.50L151.79 244.28A20.60 20.60 0 0 1 146.95 234.78Z" fill="#222" stroke="#222" stroke-width="0.25"/>
<path d="M167.10 230.50L146.95 234.78A20.60 20.60 0 0 1 146.58 232.30Z" fill="#ccc" stroke="#ccc" stroke-width="0.25"/>
<path d="M167.10 230.50L146.58 232.30A20.60 20.60 0 0 1 146.58 228.70Z" fill="#999" stroke="#999" stroke-width="0.25"/>
<path d="M167.10 230.50L146.58 228.70A20.60 20.60 0 0 1 147.20 225.17Z" fill="#888" stroke="#888" stroke-width="0.25"/>
<path d="M167.10 230.50L147.20 225.17A20.60 20.60 0 0 1 150.87 217.82Z" fill="#222" stroke="#222" stroke-width="0.25"/>
<path d="M167.10 230.50L150.87 217.82A20.60 20.60 0 0 1 152.03 216.45Z" fill="#eee" stroke="#eee" stroke-width="0.25"/>
<path d="M167.10 230.50L152.03 216.45A20.60 20.60 0 0 1 153.32 215.19Z" fill="#ccc" stroke="#ccc" stroke-width="0.25"/>
<path d="M167.10 230.50L153.32 215.19A20.60 20.60 0 0 1 167.10 209.90Z" fill="#888" stroke="#888" stroke-width="0.25"/>
</g>
<g>
<path d="M232.60 230.60L232.60 210.00A20.60 20.60 0 0 1 234.40 210.08Z" fill="#888" stroke="#888" stroke-width="0.25"/>
<path d="M232.60 230.60L234.40 210.08A20.60 20.60 0 0 1 236.18 210.31Z" fill="#333" stroke="#333" stroke-width="0.25"/>
<path d="M232.60 230.60L236.18 210.31A20.60 20.60 0 0 1 237.58 210.61Z" fill="#111" stroke="#111" stroke-width="0.25"/>
<path d="M232.60 230.60L237.58 210.61A20.60 20.60 0 0 1 241.31 211.93Z" fill="#e0e0e0" stroke="#e0e0e0" stroke-width="0.25"/>
<path d="M232.60 230.60L241.31 211.93A20.60 20.60 0 0 1 247.17 216.03Z" fill="#b0b0b0" stroke="#b0b0b0" stroke-width="0.25"/>
<path d="M232.60 230.60L247.17 216.03A20.60 20.60 0 0 1 249.47 218.78Z" fill="#999" stroke="#999" stroke-width="0.25"/>
<path d="M232.60 230.60L249.47 218.78A20.60 20.60 0 0 1 251.27 221.89Z" fill="#666" stroke="#666" stroke-width="0.25"/>
<path d="M232.60 230.60L251.27 221.89A20.60 20.60 0 0 1 251.96 223.55Z" fill="#ccc" stroke="#ccc" stroke-width="0.25"/>
<path d="M232.60 230.60L251.96 223.55A20.60 20.60 0 0 1 253.12 232.40Z" fill="#888" stroke="#888" stroke-width="0.25"/>
<path d="M232.60 230.60L253.12 232.40A20.60 20.60 0 0 1 223.89 249.27Z" fill="#adadad" stroke="#adadad" stroke-width="0.25"/>
<path d="M232.60 230.60L223.89 249.27A20.60 20.60 0 0 1 221.68 248.07Z" fill="#555" stroke="#555" stroke-width="0.25"/>
<path d="M232.60 230.60L221.68 248.07A20.60 20.60 0 0 1 219.92 246.83Z" fill="#eee" stroke="#eee" stroke-width="0.25"/>
<path d="M232.60 230.60L219.92 246.83A20.60 20.60 0 0 1 218.03 245.17Z" fill="#ccc" stroke="#ccc" stroke-width="0.25"/>
<path d="M232.60 230.60L218.03 245.17A20.60 20.60 0 0 1 215.73 242.42Z" fill="#888" stroke="#888" stroke-width="0.25"/>
<path d="M232.60 230.60L215.73 242.42A20.60 20.60 0 0 1 214.41 240.27Z" fill="#bbb" stroke="#bbb" stroke-width="0.25"/>
<path d="M232.60 230.60L214.41 240.27A20.60 20.60 0 0 1 212.01 231.32Z" fill="#aaa" stroke="#aaa" stroke-width="0.25"/>
<path d="M232.60 230.60L212.01 231.32A20.60 20.60 0 0 1 212.20 227.73Z" fill="#777" stroke="#777" stroke-width="0.25"/>
<path d="M232.60 230.60L212.20 227.73A20.60 20.60 0 0 1 216.82 217.36Z" fill="#1c1c1c" stroke="#1c1c1c" stroke-width="0.25"/>
<path d="M232.60 230.60L216.82 217.36A20.60 20.60 0 0 1 219.36 214.82Z" fill="#888" stroke="#888" stroke-width="0.25"/>
<path d="M232.60 230.60L219.36 214.82A20.60 20.60 0 0 1 225.55 211.24Z" fill="#999" stroke="#999" stroke-width="0.25"/>
<path d="M232.60 230.60L225.55 211.24A20.60 20.60 0 0 1 227.27 210.70Z" fill="#111" stroke="#111" stroke-width="0.25"/>
<path d="M232.60 230.60L227.27 210.70A20.60 20.60 0 0 1 229.02 210.31Z" fill="#999" stroke="#999" stroke-width="0.25"/>
<path d="M232.60 230.60L229.02 210.31A20.60 20.60 0 0 1 232.60 210.00Z" fill="#666" stroke="#666" stroke-width="0.25"/>
</g>
<g>
<path d="M297.70 230.50L297.70 209.90A20.60 20.60 0 0 1 299.50 209.98Z" fill="#888" stroke="#888" stroke-width="0.25"/>
<path d="M297.70 230.50L299.50 209.98A20.60 20.60 0 0 1 301.98 210.35Z" fill="#111" stroke="#111" stroke-width="0.25"/>
<path d="M297.70 230.50L301.98 210.35A20.60 20.60 0 0 1 306.41 211.83Z" fill="#e5e5e5" stroke="#e5e5e5" stroke-width="0.25"/>
<path d="M297.70 230.50L306.41 211.83A20.60 20.60 0 0 1 314.57 218.68Z" fill="#b5b5b5" stroke="#b5b5b5" stroke-width="0.25"/>
<path d="M297.70 230.50L314.57 218.68A20.60 20.60 0 0 1 316.80 222.78Z" fill="#888" stroke="#888" stroke-width="0.25"/>
<path d="M297.70 230.50L316.80 222.78A20.60 20.60 0 0 1 317.99 234.08Z" fill="#bbb" stroke="#bbb" stroke-width="0.25"/>
<path d="M297.70 230.50L317.99 234.08A20.60 20.60 0 0 1 317.06 237.55Z" fill="#888" stroke="#888" stroke-width="0.25"/>
<path d="M297.70 230.50L317.06 237.55A20.60 20.60 0 0 1 316.37 239.21Z" fill="#111" stroke="#111" stroke-width="0.25"/>
<path d="M297.70 230.50L316.37 239.21A20.60 20.60 0 0 1 292.37 250.40Z" fill="#d8d8d8" stroke="#d8d8d8" stroke-width="0.25"/>
<path d="M297.70 230.50L292.37 250.40A20.60 20.60 0 0 1 285.88 247.37Z" fill="#aaa" stroke="#aaa" stroke-width="0.25"/>
<path d="M297.70 230.50L285.88 247.37A20.60 20.60 0 0 1 280.83 242.32Z" fill="#777" stroke="#777" stroke-width="0.25"/>
<path d="M297.70 230.50L280.83 242.32A20.60 20.60 0 0 1 277.30 233.37Z" fill="#888" stroke="#888" stroke-width="0.25"/>
<path d="M297.70 230.50L277.30 233.37A20.60 20.60 0 0 1 277.11 231.22Z" fill="#222" stroke="#222" stroke-width="0.25"/>
<path d="M297.70 230.50L277.11 231.22A20.60 20.60 0 0 1 278.34 223.45Z" fill="#ddd" stroke="#ddd" stroke-width="0.25"/>
<path d="M297.70 230.50L278.34 223.45A20.60 20.60 0 0 1 279.86 220.20Z" fill="#aaa" stroke="#aaa" stroke-width="0.25"/>
<path d="M297.70 230.50L279.86 220.20A20.60 20.60 0 0 1 283.13 215.93Z" fill="#999" stroke="#999" stroke-width="0.25"/>
<path d="M297.70 230.50L283.13 215.93A20.60 20.60 0 0 1 287.40 212.66Z" fill="#777" stroke="#777" stroke-width="0.25"/>
<path d="M297.70 230.50L287.40 212.66A20.60 20.60 0 0 1 288.99 211.83Z" fill="#111" stroke="#111" stroke-width="0.25"/>
<path d="M297.70 230.50L288.99 211.83A20.60 20.60 0 0 1 290.65 211.14Z" fill="#ccc" stroke="#ccc" stroke-width="0.25"/>
<path d="M297.70 230.50L290.65 211.14A20.60 20.60 0 0 1 297.70 209.90Z" fill="#888" stroke="#888" stroke-width="0.25"/>
</g>
<g>
<path d="M363.40 230.60L363.40 210.00A20.60 20.60 0 0 1 365.20 210.08Z" fill="#999" stroke="#999" stroke-width="0.25"/>
<path d="M363.40 230.60L365.20 210.08A20.60 20.60 0 0 1 366.27 210.20Z" fill="#ccc" stroke="#ccc" stroke-width="0.25"/>
<path d="M363.40 230.60L366.27 210.20A20.60 20.60 0 0 1 368.73 210.70Z" fill="#111" stroke="#111" stroke-width="0.25"/>
<path d="M363.40 230.60L368.73 210.70A20.60 20.60 0 0 1 371.12 211.50Z" fill="#ddd" stroke="#ddd" stroke-width="0.25"/>
<path d="M363.40 230.60L371.12 211.50A20.60 20.60 0 0 1 381.24 220.30Z" fill="#888" stroke="#888" stroke-width="0.25"/>
<path d="M363.40 230.60L381.24 220.30A20.60 20.60 0 0 1 384.00 230.60Z" fill="#6a6a6a" stroke="#6a6a6a" stroke-width="0.25"/>
<path d="M363.40 230.60L384.00 230.60A20.60 20.60 0 0 1 383.30 235.93Z" fill="#b5b5b5" stroke="#b5b5b5" stroke-width="0.25"/>
<path d="M363.40 230.60L383.30 235.93A20.60 20.60 0 0 1 382.76 237.65Z" fill="#111" stroke="#111" stroke-width="0.25"/>
<path d="M363.40 230.60L382.76 237.65A20.60 20.60 0 0 1 381.59 240.27Z" fill="#ccc" stroke="#ccc" stroke-width="0.25"/>
<path d="M363.40 230.60L381.59 240.27A20.60 20.60 0 0 1 379.63 243.28Z" fill="#999" stroke="#999" stroke-width="0.25"/>
<path d="M363.40 230.60L379.63 243.28A20.60 20.60 0 0 1 348.83 245.17Z" fill="#808080" stroke="#808080" stroke-width="0.25"/>
<path d="M363.40 230.60L348.83 245.17A20.60 20.60 0 0 1 347.17 243.28Z" fill="#bbb" stroke="#bbb" stroke-width="0.25"/>
<path d="M363.40 230.60L347.17 243.28A20.60 20.60 0 0 1 345.56 240.90Z" fill="#666" stroke="#666" stroke-width="0.25"/>
<path d="M363.40 230.60L345.56 240.90A20.60 20.60 0 0 1 343.11 227.02Z" fill="#aaa" stroke="#aaa" stroke-width="0.25"/>
<path d="M363.40 230.60L343.11 227.02A20.60 20.60 0 0 1 344.30 222.88Z" fill="#111" stroke="#111" stroke-width="0.25"/>
<path d="M363.40 230.60L344.30 222.88A20.60 20.60 0 0 1 345.21 220.93Z" fill="#ccc" stroke="#ccc" stroke-width="0.25"/>
<path d="M363.40 230.60L345.21 220.93A20.60 20.60 0 0 1 346.53 218.78Z" fill="#888" stroke="#888" stroke-width="0.25"/>
<path d="M363.40 230.60L346.53 218.78A20.60 20.60 0 0 1 347.62 217.36Z" fill="#ccc" stroke="#ccc" stroke-width="0.25"/>
<path d="M363.40 230.60L347.62 217.36A20.60 20.60 0 0 1 353.10 212.76Z" fill="#666" stroke="#666" stroke-width="0.25"/>
<path d="M363.40 230.60L353.10 212.76A20.60 20.60 0 0 1 355.68 211.50Z" fill="#bbb" stroke="#bbb" stroke-width="0.25"/>
<path d="M363.40 230.60L355.68 211.50A20.60 20.60 0 0 1 362.68 210.01Z" fill="#1c1c1c" stroke="#1c1c1c" stroke-width="0.25"/>
<path d="M363.40 230.60L362.68 210.01A20.60 20.60 0 0 1 363.40 210.00Z" fill="#888" stroke="#888" stroke-width="0.25"/>
</g>
<g>
<path d="M38.40 334.00L38.40 313.40A20.60 20.60 0 0 1 40.20 313.48Z" fill="#888" stroke="#888" stroke-width="0.25"/>
<path d="M38.40 334.00L40.20 313.48A20.60 20.60 0 0 1 41.98 313.71Z" fill="#111" stroke="#111" stroke-width="0.25"/>
<path d="M38.40 334.00L41.98 313.71A20.60 20.60 0 0 1 43.73 314.10Z" fill="#ccc" stroke="#ccc" stroke-width="0.25"/>
<path d="M38.40 334.00L43.73 314.10A20.60 20.60 0 0 1 46.12 314.90Z" fill="#666" stroke="#666" stroke-width="0.25"/>
<path d="M38.40 334.00L46.12 314.90A20.60 20.60 0 0 1 57.50 326.28Z" fill="#707070" stroke="#707070" stroke-width="0.25"/>
<path d="M38.40 334.00L57.50 326.28A20.60 20.60 0 0 1 58.92 332.20Z" fill="#bbb" stroke="#bbb" stroke-width="0.25"/>
<path d="M38.40 334.00L58.92 332.20A20.60 20.60 0 0 1 58.99 334.72Z" fill="#999" stroke="#999" stroke-width="0.25"/>
<path d="M38.40 334.00L58.99 334.72A20.60 20.60 0 0 1 58.89 336.15Z" fill="#111" stroke="#111" stroke-width="0.25"/>
<path d="M38.40 334.00L58.89 336.15A20.60 20.60 0 0 1 58.30 339.33Z" fill="#ccc" stroke="#ccc" stroke-width="0.25"/>
<path d="M38.40 334.00L58.30 339.33A20.60 20.60 0 0 1 57.50 341.72Z" fill="#999" stroke="#999" stroke-width="0.25"/>
<path d="M38.40 334.00L57.50 341.72A20.60 20.60 0 0 1 29.69 352.67Z" fill="#b8b8b8" stroke="#b8b8b8" stroke-width="0.25"/>
<path d="M38.40 334.00L29.69 352.67A20.60 20.60 0 0 1 26.58 350.87Z" fill="#111" stroke="#111" stroke-width="0.25"/>
<path d="M38.40 334.00L26.58 350.87A20.60 20.60 0 0 1 25.16 349.78Z" fill="#eee" stroke="#eee" stroke-width="0.25"/>
<path d="M38.40 334.00L25.16 349.78A20.60 20.60 0 0 1 22.17 346.68Z" fill="#888" stroke="#888" stroke-width="0.25"/>
<path d="M38.40 334.00L22.17 346.68A20.60 20.60 0 0 1 20.93 344.92Z" fill="#444" stroke="#444" stroke-width="0.25"/>
<path d="M38.40 334.00L20.93 344.92A20.60 20.60 0 0 1 19.04 341.05Z" fill="#999" stroke="#999" stroke-width="0.25"/>
<path d="M38.40 334.00L19.04 341.05A20.60 20.60 0 0 1 18.25 338.28Z" fill="#666" stroke="#666" stroke-width="0.25"/>
<path d="M38.40 334.00L18.25 338.28A20.60 20.60 0 0 1 19.73 325.29Z" fill="#dcdcdc" stroke="#dcdcdc" stroke-width="0.25"/>
<path d="M38.40 334.00L19.73 325.29A20.60 20.60 0 0 1 24.62 318.69Z" fill="#808080" stroke="#808080" stroke-width="0.25"/>
<path d="M38.40 334.00L24.62 318.69A20.60 20.60 0 0 1 31.35 314.64Z" fill="#b0b0b0" stroke="#b0b0b0" stroke-width="0.25"/>
<path d="M38.40 334.00L31.35 314.64A20.60 20.60 0 0 1 33.07 314.10Z" fill="#888" stroke="#888" stroke-width="0.25"/>
<path d="M38.40 334.00L33.07 314.10A20.60 20.60 0 0 1 35.53 313.60Z" fill="#111" stroke="#111" stroke-width="0.25"/>
<path d="M38.40 334.00L35.53 313.60A20.60 20.60 0 0 1 38.40 313.40Z" fill="#bbb" stroke="#bbb" stroke-width="0.25"/>
</g>
<g>
<path d="M103.40 334.00L103.40 313.40A20.60 20.60 0 0 1 108.73 314.10Z" fill="#888" stroke="#888" stroke-width="0.25"/>
<path d="M103.40 334.00L108.73 314.10A20.60 20.60 0 0 1 111.12 314.90Z" fill="#555" stroke="#555" stroke-width="0.25"/>
<path d="M103.40 334.00L111.12 314.90A20.60 20.60 0 0 1 112.75 315.65Z" fill="#111" stroke="#111" stroke-width="0.25"/>
<path d="M103.40 334.00L112.75 315.65A20.60 20.60 0 0 1 113.70 316.16Z" fill="#eee" stroke="#eee" stroke-width="0.25"/>
<path d="M103.40 334.00L113.70 316.16A20.60 20.60 0 0 1 122.07 325.29Z" fill="#b0b0b0" stroke="#b0b0b0" stroke-width="0.25"/>
<path d="M103.40 334.00L122.07 325.29A20.60 20.60 0 0 1 123.99 334.72Z" fill="#707070" stroke="#707070" stroke-width="0.25"/>
<path d="M103.40 334.00L123.99 334.72A20.60 20.60 0 0 1 123.89 336.15Z" fill="#444" stroke="#444" stroke-width="0.25"/>
<path d="M103.40 334.00L123.89 336.15A20.60 20.60 0 0 1 120.27 345.82Z" fill="#b5b5b5" stroke="#b5b5b5" stroke-width="0.25"/>
<path d="M103.40 334.00L120.27 345.82A20.60 20.60 0 0 1 113.70 351.84Z" fill="#909090" stroke="#909090" stroke-width="0.25"/>
<path d="M103.40 334.00L113.70 351.84A20.60 20.60 0 0 1 110.45 353.36Z" fill="#bbb" stroke="#bbb" stroke-width="0.25"/>
<path d="M103.40 334.00L110.45 353.36A20.60 20.60 0 0 1 108.73 353.90Z" fill="#333" stroke="#333" stroke-width="0.25"/>
<path d="M103.40 334.00L108.73 353.90A20.60 20.60 0 0 1 106.27 354.40Z" fill="#999" stroke="#999" stroke-width="0.25"/>
<path d="M103.40 334.00L106.27 354.40A20.60 20.60 0 0 1 103.40 354.60Z" fill="#ccc" stroke="#ccc" stroke-width="0.25"/>
<path d="M103.40 334.00L103.40 354.60A20.60 20.60 0 0 1 101.60 354.52Z" fill="#111" stroke="#111" stroke-width="0.25"/>
<path d="M103.40 334.00L101.60 354.52A20.60 20.60 0 0 1 99.12 354.15Z" fill="#555" stroke="#555" stroke-width="0.25"/>
<path d="M103.40 334.00L99.12 354.15A20.60 20.60 0 0 1 91.58 350.87Z" fill="#d5d5d5" stroke="#d5d5d5" stroke-width="0.25"/>
<path d="M103.40 334.00L91.58 350.87A20.60 20.60 0 0 1 88.09 347.78Z" fill="#aaa" stroke="#aaa" stroke-width="0.25"/>
<path d="M103.40 334.00L88.09 347.78A20.60 20.60 0 0 1 85.56 344.30Z" fill="#909090" stroke="#909090" stroke-width="0.25"/>
<path d="M103.40 334.00L85.56 344.30A20.60 20.60 0 0 1 91.58 317.13Z" fill="#6a6a6a" stroke="#6a6a6a" stroke-width="0.25"/>
<path d="M103.40 334.00L91.58 317.13A20.60 20.60 0 0 1 93.10 316.16Z" fill="#111" stroke="#111" stroke-width="0.25"/>
<path d="M103.40 334.00L93.10 316.16A20.60 20.60 0 0 1 94.69 315.33Z" fill="#ddd" stroke="#ddd" stroke-width="0.25"/>
<path d="M103.40 334.00L94.69 315.33A20.60 20.60 0 0 1 99.82 313.71Z" fill="#b0b0b0" stroke="#b0b0b0" stroke-width="0.25"/>
<path d="M103.40 334.00L99.82 313.71A20.60 20.60 0 0 1 101.60 313.48Z" fill="#999" stroke="#999" stroke-width="0.25"/>
<path d="M103.40 334.00L101.60 313.48A20.60 20.60 0 0 1 103.40 313.40Z" fill="#bbb" stroke="#bbb" stroke-width="0.25"/>
</g>
<g>
<path d="M168.40 334.40L168.40 313.80A20.60 20.60 0 0 1 169.12 313.81Z" fill="#1c1c1c" stroke="#1c1c1c" stroke-width="0.25"/>
<path d="M168.40 334.40L169.12 313.81A20.60 20.60 0 0 1 171.27 314.00Z" fill="#999" stroke="#999" stroke-width="0.25"/>
<path d="M168.40 334.40L171.27 314.00A20.60 20.60 0 0 1 175.45 315.04Z" fill="#111" stroke="#111" stroke-width="0.25"/>
<path d="M168.40 334.40L175.45 315.04A20.60 20.60 0 0 1 178.07 316.21Z" fill="#ddd" stroke="#ddd" stroke-width="0.25"/>
<path d="M168.40 334.40L178.07 316.21A20.60 20.60 0 0 1 186.24 324.10Z" fill="#888" stroke="#888" stroke-width="0.25"/>
<path d="M168.40 334.40L186.24 324.10A20.60 20.60 0 0 1 187.99 328.03Z" fill="#bbb" stroke="#bbb" stroke-width="0.25"/>
<path d="M168.40 334.40L187.99 328.03A20.60 20.60 0 0 1 188.92 332.60Z" fill="#111" stroke="#111" stroke-width="0.25"/>
<path d="M168.40 334.40L188.92 332.60A20.60 20.60 0 0 1 188.92 336.20Z" fill="#333" stroke="#333" stroke-width="0.25"/>
<path d="M168.40 334.40L188.92 336.20A20.60 20.60 0 0 1 188.69 337.98Z" fill="#ccc" stroke="#ccc" stroke-width="0.25"/>
<path d="M168.40 334.40L188.69 337.98A20.60 20.60 0 0 1 182.97 348.97Z" fill="#8a8a8a" stroke="#8a8a8a" stroke-width="0.25"/>
<path d="M168.40 334.40L182.97 348.97A20.60 20.60 0 0 1 178.70 352.24Z" fill="#555" stroke="#555" stroke-width="0.25"/>
<path d="M168.40 334.40L178.70 352.24A20.60 20.60 0 0 1 176.12 353.50Z" fill="#aaa" stroke="#aaa" stroke-width="0.25"/>
<path d="M168.40 334.40L176.12 353.50A20.60 20.60 0 0 1 171.98 354.69Z" fill="#ddd" stroke="#ddd" stroke-width="0.25"/>
<path d="M168.40 334.40L171.98 354.69A20.60 20.60 0 0 1 169.12 354.99Z" fill="#bbb" stroke="#bbb" stroke-width="0.25"/>
<path d="M168.40 334.40L169.12 354.99A20.60 20.60 0 0 1 163.07 354.30Z" fill="#666" stroke="#666" stroke-width="0.25"/>
<path d="M168.40 334.40L163.07 354.30A20.60 20.60 0 0 1 159.69 353.07Z" fill="#999" stroke="#999" stroke-width="0.25"/>
<path d="M168.40 334.40L159.69 353.07A20.60 20.60 0 0 1 156.58 351.27Z" fill="#bbb" stroke="#bbb" stroke-width="0.25"/>
<path d="M168.40 334.40L156.58 351.27A20.60 20.60 0 0 1 153.83 348.97Z" fill="#888" stroke="#888" stroke-width="0.25"/>
<path d="M168.40 334.40L153.83 348.97A20.60 20.60 0 0 1 152.17 347.08Z" fill="#444" stroke="#444" stroke-width="0.25"/>
<path d="M168.40 334.40L152.17 347.08A20.60 20.60 0 0 1 147.81 333.68Z" fill="#1c1c1c" stroke="#1c1c1c" stroke-width="0.25"/>
<path d="M168.40 334.40L147.81 333.68A20.60 20.60 0 0 1 147.91 332.25Z" fill="#ccc" stroke="#ccc" stroke-width="0.25"/>
<path d="M168.40 334.40L147.91 332.25A20.60 20.60 0 0 1 150.56 324.10Z" fill="#6a6a6a" stroke="#6a6a6a" stroke-width="0.25"/>
<path d="M168.40 334.40L150.56 324.10A20.60 20.60 0 0 1 153.09 320.62Z" fill="#bbb" stroke="#bbb" stroke-width="0.25"/>
<path d="M168.40 334.40L153.09 320.62A20.60 20.60 0 0 1 154.62 319.09Z" fill="#888" stroke="#888" stroke-width="0.25"/>
<path d="M168.40 334.40L154.62 319.09A20.60 20.60 0 0 1 168.40 313.80Z" fill="#1c1c1c" stroke="#1c1c1c" stroke-width="0.25"/>
</g>
<g>
<path d="M233.30 334.20L233.30 313.60A20.60 20.60 0 0 1 235.10 313.68Z" fill="#999" stroke="#999" stroke-width="0.25"/>
<path d="M233.30 334.20L235.10 313.68A20.60 20.60 0 0 1 236.88 313.91Z" fill="#bbb" stroke="#bbb" stroke-width="0.25"/>
<path d="M233.30 334.20L236.88 313.91A20.60 20.60 0 0 1 241.02 315.10Z" fill="#111" stroke="#111" stroke-width="0.25"/>
<path d="M233.30 334.20L241.02 315.10A20.60 20.60 0 0 1 242.97 316.01Z" fill="#eee" stroke="#eee" stroke-width="0.25"/>
<path d="M233.30 334.20L242.97 316.01A20.60 20.60 0 0 1 247.08 318.89Z" fill="#c0c0c0" stroke="#c0c0c0" stroke-width="0.25"/>
<path d="M233.30 334.20L247.08 318.89A20.60 20.60 0 0 1 249.08 320.96Z" fill="#999" stroke="#999" stroke-width="0.25"/>
<path d="M233.30 334.20L249.08 320.96A20.60 20.60 0 0 1 253.59 330.62Z" fill="#6e6e6e" stroke="#6e6e6e" stroke-width="0.25"/>
<path d="M233.30 334.20L253.59 330.62A20.60 20.60 0 0 1 253.89 333.48Z" fill="#999" stroke="#999" stroke-width="0.25"/>
<path d="M233.30 334.20L253.89 333.48A20.60 20.60 0 0 1 253.89 334.92Z" fill="#ccc" stroke="#ccc" stroke-width="0.25"/>
<path d="M233.30 334.20L253.89 334.92A20.60 20.60 0 0 1 252.40 341.92Z" fill="#1c1c1c" stroke="#1c1c1c" stroke-width="0.25"/>
<path d="M233.30 334.20L252.40 341.92A20.60 20.60 0 0 1 251.49 343.87Z" fill="#ddd" stroke="#ddd" stroke-width="0.25"/>
<path d="M233.30 334.20L251.49 343.87A20.60 20.60 0 0 1 223.00 352.04Z" fill="#7a7a7a" stroke="#7a7a7a" stroke-width="0.25"/>
<path d="M233.30 334.20L223.00 352.04A20.60 20.60 0 0 1 221.19 350.87Z" fill="#ccc" stroke="#ccc" stroke-width="0.25"/>
<path d="M233.30 334.20L221.19 350.87A20.60 20.60 0 0 1 219.52 349.51Z" fill="#111" stroke="#111" stroke-width="0.25"/>
<path d="M233.30 334.20L219.52 349.51A20.60 20.60 0 0 1 217.99 347.98Z" fill="#888" stroke="#888" stroke-width="0.25"/>
<path d="M233.30 334.20L217.99 347.98A20.60 20.60 0 0 1 215.46 344.50Z" fill="#ccc" stroke="#ccc" stroke-width="0.25"/>
<path d="M233.30 334.20L215.46 344.50A20.60 20.60 0 0 1 213.40 339.53Z" fill="#e0e0e0" stroke="#e0e0e0" stroke-width="0.25"/>
<path d="M233.30 334.20L213.40 339.53A20.60 20.60 0 0 1 212.90 337.07Z" fill="#999" stroke="#999" stroke-width="0.25"/>
<path d="M233.30 334.20L212.90 337.07A20.60 20.60 0 0 1 212.70 334.20Z" fill="#888" stroke="#888" stroke-width="0.25"/>
<path d="M233.30 334.20L212.70 334.20A20.60 20.60 0 0 1 215.46 323.90Z" fill="#1c1c1c" stroke="#1c1c1c" stroke-width="0.25"/>
<path d="M233.30 334.20L215.46 323.90A20.60 20.60 0 0 1 217.52 320.96Z" fill="#ddd" stroke="#ddd" stroke-width="0.25"/>
<path d="M233.30 334.20L217.52 320.96A20.60 20.60 0 0 1 219.52 318.89Z" fill="#eee" stroke="#eee" stroke-width="0.25"/>
<path d="M233.30 334.20L219.52 318.89A20.60 20.60 0 0 1 221.48 317.33Z" fill="#999" stroke="#999" stroke-width="0.25"/>
<path d="M233.30 334.20L221.48 317.33A20.60 20.60 0 0 1 224.59 315.53Z" fill="#bbb" stroke="#bbb" stroke-width="0.25"/>
<path d="M233.30 334.20L224.59 315.53A20.60 20.60 0 0 1 229.02 314.05Z" fill="#888" stroke="#888" stroke-width="0.25"/>
<path d="M233.30 334.20L229.02 314.05A20.60 20.60 0 0 1 232.58 313.61Z" fill="#ddd" stroke="#ddd" stroke-width="0.25"/>
<path d="M233.30 334.20L232.58 313.61A20.60 20.60 0 0 1 233.30 313.60Z" fill="#888" stroke="#888" stroke-width="0.25"/>
</g>
<g>
<path d="M298.40 334.00L298.40 313.40A20.60 20.60 0 0 1 300.20 313.48Z" fill="#bbb" stroke="#bbb" stroke-width="0.25"/>
<path d="M298.40 334.00L300.20 313.48A20.60 20.60 0 0 1 302.68 313.85Z" fill="#999" stroke="#999" stroke-width="0.25"/>
<path d="M298.40 334.00L302.68 313.85A20.60 20.60 0 0 1 305.45 314.64Z" fill="#111" stroke="#111" stroke-width="0.25"/>
<path d="M298.40 334.00L305.45 314.64A20.60 20.60 0 0 1 308.07 315.81Z" fill="#ccc" stroke="#ccc" stroke-width="0.25"/>
<path d="M298.40 334.00L308.07 315.81A20.60 20.60 0 0 1 316.24 323.70Z" fill="#888" stroke="#888" stroke-width="0.25"/>
<path d="M298.40 334.00L316.24 323.70A20.60 20.60 0 0 1 318.55 329.72Z" fill="#666" stroke="#666" stroke-width="0.25"/>
<path d="M298.40 334.00L318.55 329.72A20.60 20.60 0 0 1 318.92 332.20Z" fill="#999" stroke="#999" stroke-width="0.25"/>
<path d="M298.40 334.00L318.92 332.20A20.60 20.60 0 0 1 318.99 334.72Z" fill="#bbb" stroke="#bbb" stroke-width="0.25"/>
<path d="M298.40 334.00L318.99 334.72A20.60 20.60 0 0 1 317.07 342.71Z" fill="#1c1c1c" stroke="#1c1c1c" stroke-width="0.25"/>
<path d="M298.40 334.00L317.07 342.71A20.60 20.60 0 0 1 316.24 344.30Z" fill="#ccc" stroke="#ccc" stroke-width="0.25"/>
<path d="M298.40 334.00L316.24 344.30A20.60 20.60 0 0 1 303.73 353.90Z" fill="#b8b8b8" stroke="#b8b8b8" stroke-width="0.25"/>
<path d="M298.40 334.00L303.73 353.90A20.60 20.60 0 0 1 300.20 354.52Z" fill="#777" stroke="#777" stroke-width="0.25"/>
<path d="M298.40 334.00L300.20 354.52A20.60 20.60 0 0 1 293.07 353.90Z" fill="#666" stroke="#666" stroke-width="0.25"/>
<path d="M298.40 334.00L293.07 353.90A20.60 20.60 0 0 1 289.69 352.67Z" fill="#111" stroke="#111" stroke-width="0.25"/>
<path d="M298.40 334.00L289.69 352.67A20.60 20.60 0 0 1 287.48 351.47Z" fill="#ddd" stroke="#ddd" stroke-width="0.25"/>
<path d="M298.40 334.00L287.48 351.47A20.60 20.60 0 0 1 277.88 335.80Z" fill="#6e6e6e" stroke="#6e6e6e" stroke-width="0.25"/>
<path d="M298.40 334.00L277.88 335.80A20.60 20.60 0 0 1 277.88 332.20Z" fill="#999" stroke="#999" stroke-width="0.25"/>
<path d="M298.40 334.00L277.88 332.20A20.60 20.60 0 0 1 279.04 326.95Z" fill="#8a8a8a" stroke="#8a8a8a" stroke-width="0.25"/>
<path d="M298.40 334.00L279.04 326.95A20.60 20.60 0 0 1 280.21 324.33Z" fill="#bbb" stroke="#bbb" stroke-width="0.25"/>
<path d="M298.40 334.00L280.21 324.33A20.60 20.60 0 0 1 281.12 322.78Z" fill="#111" stroke="#111" stroke-width="0.25"/>
<path d="M298.40 334.00L281.12 322.78A20.60 20.60 0 0 1 282.17 321.32Z" fill="#ccc" stroke="#ccc" stroke-width="0.25"/>
<path d="M298.40 334.00L282.17 321.32A20.60 20.60 0 0 1 291.35 314.64Z" fill="#6a6a6a" stroke="#6a6a6a" stroke-width="0.25"/>
<path d="M298.40 334.00L291.35 314.64A20.60 20.60 0 0 1 294.12 313.85Z" fill="#999" stroke="#999" stroke-width="0.25"/>
<path d="M298.40 334.00L294.12 313.85A20.60 20.60 0 0 1 295.89 313.55Z" fill="#111" stroke="#111" stroke-width="0.25"/>
<path d="M298.40 334.00L295.89 313.55A20.60 20.60 0 0 1 298.40 313.40Z" fill="#ddd" stroke="#ddd" stroke-width="0.25"/>
</g>
<g>
<path d="M363.40 333.80L363.40 313.20A20.60 20.60 0 0 1 366.27 313.40Z" fill="#555" stroke="#555" stroke-width="0.25"/>
<path d="M363.40 333.80L366.27 313.40A20.60 20.60 0 0 1 368.73 313.90Z" fill="#888" stroke="#888" stroke-width="0.25"/>
<path d="M363.40 333.80L368.73 313.90A20.60 20.60 0 0 1 371.12 314.70Z" fill="#111" stroke="#111" stroke-width="0.25"/>
<path d="M363.40 333.80L371.12 314.70A20.60 20.60 0 0 1 374.32 316.33Z" fill="#eee" stroke="#eee" stroke-width="0.25"/>
<path d="M363.40 333.80L374.32 316.33A20.60 20.60 0 0 1 377.97 319.23Z" fill="#bbb" stroke="#bbb" stroke-width="0.25"/>
<path d="M363.40 333.80L377.97 319.23A20.60 20.60 0 0 1 383.69 330.22Z" fill="#808080" stroke="#808080" stroke-width="0.25"/>
<path d="M363.40 333.80L383.69 330.22A20.60 20.60 0 0 1 383.99 334.52Z" fill="#666" stroke="#666" stroke-width="0.25"/>
<path d="M363.40 333.80L383.99 334.52A20.60 20.60 0 0 1 383.89 335.95Z" fill="#ccc" stroke="#ccc" stroke-width="0.25"/>
<path d="M363.40 333.80L383.89 335.95A20.60 20.60 0 0 1 383.55 338.08Z" fill="#111" stroke="#111" stroke-width="0.25"/>
<path d="M363.40 333.80L383.55 338.08A20.60 20.60 0 0 1 379.18 347.04Z" fill="#dcdcdc" stroke="#dcdcdc" stroke-width="0.25"/>
<path d="M363.40 333.80L379.18 347.04A20.60 20.60 0 0 1 358.07 353.70Z" fill="#b0b0b0" stroke="#b0b0b0" stroke-width="0.25"/>
<path d="M363.40 333.80L358.07 353.70A20.60 20.60 0 0 1 354.69 352.47Z" fill="#888" stroke="#888" stroke-width="0.25"/>
<path d="M363.40 333.80L354.69 352.47A20.60 20.60 0 0 1 351.58 350.67Z" fill="#666" stroke="#666" stroke-width="0.25"/>
<path d="M363.40 333.80L351.58 350.67A20.60 20.60 0 0 1 349.62 349.11Z" fill="#ccc" stroke="#ccc" stroke-width="0.25"/>
<path d="M363.40 333.80L349.62 349.11A20.60 20.60 0 0 1 347.62 347.04Z" fill="#111" stroke="#111" stroke-width="0.25"/>
<path d="M363.40 333.80L347.62 347.04A20.60 20.60 0 0 1 345.93 344.72Z" fill="#bbb" stroke="#bbb" stroke-width="0.25"/>
<path d="M363.40 333.80L345.93 344.72A20.60 20.60 0 0 1 344.04 340.85Z" fill="#999" stroke="#999" stroke-width="0.25"/>
<path d="M363.40 333.80L344.04 340.85A20.60 20.60 0 0 1 343.50 328.47Z" fill="#6e6e6e" stroke="#6e6e6e" stroke-width="0.25"/>
<path d="M363.40 333.80L343.50 328.47A20.60 20.60 0 0 1 345.56 323.50Z" fill="#bbb" stroke="#bbb" stroke-width="0.25"/>
<path d="M363.40 333.80L345.56 323.50A20.60 20.60 0 0 1 347.62 320.56Z" fill="#aaa" stroke="#aaa" stroke-width="0.25"/>
<path d="M363.40 333.80L347.62 320.56A20.60 20.60 0 0 1 350.16 318.02Z" fill="#666" stroke="#666" stroke-width="0.25"/>
<path d="M363.40 333.80L350.16 318.02A20.60 20.60 0 0 1 351.58 316.93Z" fill="#ccc" stroke="#ccc" stroke-width="0.25"/>
<path d="M363.40 333.80L351.58 316.93A20.60 20.60 0 0 1 353.10 315.96Z" fill="#444" stroke="#444" stroke-width="0.25"/>
<path d="M363.40 333.80L353.10 315.96A20.60 20.60 0 0 1 354.69 315.13Z" fill="#ccc" stroke="#ccc" stroke-width="0.25"/>
<path d="M363.40 333.80L354.69 315.13A20.60 20.60 0 0 1 362.68 313.21Z" fill="#b5b5b5" stroke="#b5b5b5" stroke-width="0.25"/>
<path d="M363.40 333.80L362.68 313.21A20.60 20.60 0 0 1 363.40 313.20Z" fill="#444" stroke="#444" stroke-width="0.25"/>
</g>
<text transform="translate(39.60 197.70)" text-anchor="middle" font-family='"Liberation Serif", serif' font-size="6.40" font-weight="bold" font-style="italic" fill="#111" stroke="#111" stroke-width="0.14">DcaABF1</text>
<text transform="translate(103.70 197.70)" text-anchor="middle" font-family='"Liberation Serif", serif' font-size="6.40" font-weight="bold" font-style="italic" fill="#111" stroke="#111" stroke-width="0.14">DcaABF2</text>
<text transform="translate(170.60 197.70)" text-anchor="middle" font-family='"Liberation Serif", serif' font-size="6.40" font-weight="bold" font-style="italic" fill="#111" stroke="#111" stroke-width="0.14">DcaABF3</text>
<text transform="translate(232.40 197.70)" text-anchor="middle" font-family='"Liberation Serif", serif' font-size="6.40" font-weight="bold" font-style="italic" fill="#111" stroke="#111" stroke-width="0.14">DcaABI5</text>
<text transform="translate(300.80 197.70)" text-anchor="middle" font-family='"Liberation Serif", serif' font-size="6.40" font-weight="bold" font-style="italic" fill="#111" stroke="#111" stroke-width="0.14">DcaDPBF2</text>
<text transform="translate(363.60 197.70)" text-anchor="middle" font-family='"Liberation Serif", serif' font-size="6.40" font-weight="bold" font-style="italic" fill="#111" stroke="#111" stroke-width="0.14">AshABF1</text>
<text transform="translate(34.90 305.20)" text-anchor="middle" font-family='"Liberation Serif", serif' font-size="6.50" font-weight="bold" font-style="italic" fill="#111" stroke="#111" stroke-width="0.14">AshABF2</text>
<text transform="translate(104.90 305.20)" text-anchor="middle" font-family='"Liberation Serif", serif' font-size="6.50" font-weight="bold" font-style="italic" fill="#111" stroke="#111" stroke-width="0.14">AshABI5</text>
<text transform="translate(169.90 305.20)" text-anchor="middle" font-family='"Liberation Serif", serif' font-size="6.50" font-weight="bold" font-style="italic" fill="#111" stroke="#111" stroke-width="0.14">AshDPBF2</text>
<text transform="translate(236.90 305.20)" text-anchor="middle" font-family='"Liberation Serif", serif' font-size="6.50" font-weight="bold" font-style="italic" fill="#111" stroke="#111" stroke-width="0.14">PeqABF1</text>
<text transform="translate(297.20 305.20)" text-anchor="middle" font-family='"Liberation Serif", serif' font-size="6.50" font-weight="bold" font-style="italic" fill="#111" stroke="#111" stroke-width="0.14">PeqABF2</text>
<text transform="translate(364.70 305.20)" text-anchor="middle" font-family='"Liberation Serif", serif' font-size="6.50" font-weight="bold" font-style="italic" fill="#111" stroke="#111" stroke-width="0.14">PeqABI5</text>
<text transform="translate(12.30 210.20)" text-anchor="start" font-family='"Liberation Serif", serif' font-size="5.60" font-weight="bold" font-style="normal" fill="#8dc63f">WRKY</text>
<text transform="translate(18.10 215.60)" text-anchor="start" font-family='"Liberation Serif", serif' font-size="5.60" font-weight="normal" font-style="normal" fill="#151515" stroke="#151515" stroke-width="0.12">42</text>
<text transform="translate(110.80 210.30)" text-anchor="start" font-family='"Liberation Serif", serif' font-size="5.30" font-weight="normal" font-style="normal" fill="#8eb4e3" stroke="#8eb4e3" stroke-width="0.10">bZIP</text>
<text transform="translate(115.30 215.50)" text-anchor="start" font-family='"Liberation Serif", serif' font-size="5.60" font-weight="normal" font-style="normal" fill="#151515" stroke="#151515" stroke-width="0.12">23</text>
<text transform="translate(180.90 253.00)" text-anchor="start" font-family='"Liberation Serif", serif' font-size="5.30" font-weight="normal" font-style="normal" fill="#8eb4e3" stroke="#8eb4e3" stroke-width="0.10">ERF</text>
<text transform="translate(172.90 257.30)" text-anchor="start" font-family='"Liberation Serif", serif' font-size="5.60" font-weight="normal" font-style="normal" fill="#151515" stroke="#151515" stroke-width="0.12">69</text>
<text transform="translate(249.20 249.90)" text-anchor="start" font-family='"Liberation Serif", serif' font-size="5.20" font-weight="bold" font-style="normal" fill="#8dc63f">ERF</text>
<text transform="translate(243.10 254.10)" text-anchor="start" font-family='"Liberation Serif", serif' font-size="5.60" font-weight="normal" font-style="normal" fill="#151515" stroke="#151515" stroke-width="0.12">76</text>
<text transform="translate(314.60 249.20)" text-anchor="start" font-family='"Liberation Serif", serif' font-size="5.20" font-weight="bold" font-style="normal" fill="#f36fd8">ERF</text>
<text transform="translate(308.30 254.30)" text-anchor="start" font-family='"Liberation Serif", serif' font-size="5.60" font-weight="normal" font-style="normal" fill="#151515" stroke="#151515" stroke-width="0.12">28</text>
<text transform="translate(368.00 256.30)" text-anchor="start" font-family='"Liberation Serif", serif' font-size="5.40" font-weight="bold" font-style="normal" fill="#29abe2">ERF</text>
<text transform="translate(360.70 257.50)" text-anchor="start" font-family='"Liberation Serif", serif' font-size="5.60" font-weight="normal" font-style="normal" fill="#151515" stroke="#151515" stroke-width="0.12">66</text>
<text transform="translate(55.40 354.60)" text-anchor="start" font-family='"Liberation Serif", serif' font-size="5.40" font-weight="bold" font-style="normal" fill="#f36fd8">ERF</text>
<text transform="translate(48.60 358.70)" text-anchor="start" font-family='"Liberation Serif", serif' font-size="5.60" font-weight="normal" font-style="normal" fill="#151515" stroke="#151515" stroke-width="0.12">73</text>
<text transform="translate(75.50 324.00)" text-anchor="start" font-family='"Liberation Serif", serif' font-size="5.30" font-weight="normal" font-style="normal" fill="#8eb4e3" stroke="#8eb4e3" stroke-width="0.10">NAC</text>
<text transform="translate(77.30 330.00)" text-anchor="start" font-family='"Liberation Serif", serif' font-size="5.60" font-weight="normal" font-style="normal" fill="#151515" stroke="#151515" stroke-width="0.12">29</text>
<text transform="translate(165.70 312.00)" text-anchor="start" font-family='"Liberation Serif", serif' font-size="5.60" font-weight="bold" font-style="normal" fill="#f36fd8">WRKY</text>
<text transform="translate(153.70 315.50)" text-anchor="start" font-family='"Liberation Serif", serif' font-size="5.60" font-weight="normal" font-style="normal" fill="#151515" stroke="#151515" stroke-width="0.12">26</text>
<text transform="translate(245.60 357.40)" text-anchor="start" font-family='"Liberation Serif", serif' font-size="5.30" font-weight="normal" font-style="normal" fill="#8eb4e3" stroke="#8eb4e3" stroke-width="0.10">ERF</text>
<text transform="translate(236.00 361.00)" text-anchor="start" font-family='"Liberation Serif", serif' font-size="5.60" font-weight="normal" font-style="normal" fill="#151515" stroke="#151515" stroke-width="0.12">57</text>
<text transform="translate(315.00 355.10)" text-anchor="start" font-family='"Liberation Serif", serif' font-size="5.40" font-weight="bold" font-style="normal" fill="#29abe2">ERF</text>
<text transform="translate(308.50 358.20)" text-anchor="start" font-family='"Liberation Serif", serif' font-size="5.60" font-weight="normal" font-style="normal" fill="#151515" stroke="#151515" stroke-width="0.12">26</text>
<text transform="translate(376.80 358.00)" text-anchor="start" font-family='"Liberation Serif", serif' font-size="5.40" font-weight="bold" font-style="normal" fill="#f050c0">ERF</text>
<text transform="translate(370.20 361.00)" text-anchor="start" font-family='"Liberation Serif", serif' font-size="5.60" font-weight="normal" font-style="normal" fill="#151515" stroke="#151515" stroke-width="0.12">33</text>
<rect x="13.5" y="257.5" width="49.5" height="30.0" fill="#fcfeff"/>
<text transform="translate(21.20 278.70)" text-anchor="start" font-family='"Liberation Serif", serif' font-size="9.80" font-weight="normal" font-style="normal" fill="#a6ba2c" stroke="#a6ba2c" stroke-width="0.14">WRKY</text>
<text transform="translate(27.40 271.00)" text-anchor="start" font-family='"Liberation Serif", serif' font-size="7.80" font-weight="normal" font-style="normal" fill="#9fd0f2" stroke="#9fd0f2" stroke-width="0.11">MYB</text>
<text transform="translate(26.90 286.80)" text-anchor="start" font-family='"Liberation Serif", serif' font-size="8.00" font-weight="normal" font-style="normal" fill="#f56ad0" stroke="#f56ad0" stroke-width="0.11">ERF</text>
<text transform="translate(25.70 271.00) rotate(-90)" text-anchor="start" font-family='"Liberation Serif", serif' font-size="5.60" font-weight="normal" font-style="normal" fill="#a6ba2c" stroke="#a6ba2c" stroke-width="0.08">bZIP</text>
<text transform="translate(32.00 264.20)" text-anchor="start" font-family='"Liberation Serif", serif' font-size="3.20" font-weight="normal" font-style="normal" fill="#9fd0f2" stroke="#9fd0f2" stroke-width="0.04">TCP</text>
<text transform="translate(41.50 275.80)" text-anchor="start" font-family='"Liberation Serif", serif' font-size="3.00" font-weight="normal" font-style="normal" fill="#2a9de6" stroke="#2a9de6" stroke-width="0.04">NAC</text>
<text transform="translate(28.00 280.60)" text-anchor="start" font-family='"Liberation Serif", serif' font-size="2.60" font-weight="normal" font-style="normal" fill="#9fd0f2" stroke="#9fd0f2" stroke-width="0.04">bHLH</text>
<text transform="translate(38.00 280.60)" text-anchor="start" font-family='"Liberation Serif", serif' font-size="2.60" font-weight="normal" font-style="normal" fill="#9fd0f2" stroke="#9fd0f2" stroke-width="0.04">GATA</text>
<text transform="translate(44.60 269.80) rotate(-90)" text-anchor="start" font-family='"Liberation Serif", serif' font-size="3.00" font-weight="normal" font-style="normal" fill="#2a9de6" stroke="#2a9de6" stroke-width="0.04">Dof</text>
<rect x="78.0" y="258.0" width="50.0" height="30.0" fill="#fcfeff"/>
<text transform="translate(90.20 280.30) rotate(-90)" text-anchor="start" font-family='"Liberation Serif", serif' font-size="9.40" font-weight="normal" font-style="normal" fill="#a6ba2c" stroke="#a6ba2c" stroke-width="0.13">ERF</text>
<text transform="translate(94.80 271.40)" text-anchor="start" font-family='"Liberation Serif", serif' font-size="9.40" font-weight="normal" font-style="normal" fill="#9fd0f2" stroke="#9fd0f2" stroke-width="0.13">bzip</text>
<text transform="translate(92.00 276.80)" text-anchor="start" font-family='"Liberation Serif", serif' font-size="6.80" font-weight="normal" font-style="normal" fill="#2a9de6" stroke="#2a9de6" stroke-width="0.10">WRKY</text>
<text transform="translate(97.00 281.90)" text-anchor="start" font-family='"Liberation Serif", serif' font-size="6.10" font-weight="normal" font-style="normal" fill="#f58ad6" stroke="#f58ad6" stroke-width="0.09">MYB</text>
<text transform="translate(96.20 286.00)" text-anchor="start" font-family='"Liberation Serif", serif' font-size="5.40" font-weight="normal" font-style="normal" fill="#a6ba2c" stroke="#a6ba2c" stroke-width="0.08">TCP</text>
<text transform="translate(105.60 285.00)" text-anchor="start" font-family='"Liberation Serif", serif' font-size="2.80" font-weight="normal" font-style="normal" fill="#a6ba2c" stroke="#a6ba2c" stroke-width="0.04">bHLH</text>
<text transform="translate(113.20 266.20) rotate(90)" text-anchor="start" font-family='"Liberation Serif", serif' font-size="4.40" font-weight="normal" font-style="normal" fill="#c8d878" stroke="#c8d878" stroke-width="0.06">GATA</text>
<text transform="translate(117.20 267.00) rotate(90)" text-anchor="start" font-family='"Liberation Serif", serif' font-size="5.60" font-weight="normal" font-style="normal" fill="#f58ad6" stroke="#f58ad6" stroke-width="0.08">NAC</text>
<text transform="translate(97.60 262.60)" text-anchor="start" font-family='"Liberation Serif", serif' font-size="2.70" font-weight="normal" font-style="normal" fill="#2a9de6" stroke="#2a9de6" stroke-width="0.04">Trihelix</text>
<text transform="translate(94.60 270.00) rotate(-90)" text-anchor="start" font-family='"Liberation Serif", serif' font-size="3.00" font-weight="normal" font-style="normal" fill="#c8d878" stroke="#c8d878" stroke-width="0.04">Dof</text>
<text transform="translate(96.60 283.40) rotate(-90)" text-anchor="start" font-family='"Liberation Serif", serif' font-size="2.40" font-weight="normal" font-style="normal" fill="#c8d878" stroke="#c8d878" stroke-width="0.03">C2H2</text>
<rect x="141.6" y="259.0" width="48.8" height="28.4" fill="#fcfeff"/>
<text transform="translate(161.00 261.30) rotate(90)" text-anchor="start" font-family='"Liberation Serif", serif' font-size="13.60" font-weight="normal" font-style="normal" fill="#9fd0f2" stroke="#9fd0f2" stroke-width="0.19">ERF</text>
<text transform="translate(177.90 285.80) rotate(-90)" text-anchor="start" font-family='"Liberation Serif", serif' font-size="7.90" font-weight="normal" font-style="normal" fill="#f56ad0" stroke="#f56ad0" stroke-width="0.11">WRKY</text>
<text transform="translate(155.00 266.30) rotate(90)" text-anchor="start" font-family='"Liberation Serif", serif' font-size="6.20" font-weight="normal" font-style="normal" fill="#f56ad0" stroke="#f56ad0" stroke-width="0.09">MYB</text>
<text transform="translate(151.80 268.20) rotate(90)" text-anchor="start" font-family='"Liberation Serif", serif' font-size="3.60" font-weight="normal" font-style="normal" fill="#9fd0f2" stroke="#9fd0f2" stroke-width="0.05">TCP</text>
<text transform="translate(153.20 282.40)" text-anchor="start" font-family='"Liberation Serif", serif' font-size="3.20" font-weight="normal" font-style="normal" fill="#a6ba2c" stroke="#a6ba2c" stroke-width="0.04">bZIP</text>
<text transform="translate(179.00 265.00) rotate(90)" text-anchor="start" font-family='"Liberation Serif", serif' font-size="3.60" font-weight="normal" font-style="normal" fill="#9fd0f2" stroke="#9fd0f2" stroke-width="0.05">GATA</text>
<rect x="208.0" y="259.0" width="52.0" height="29.0" fill="#fcfeff"/>
<text transform="translate(217.00 283.60)" text-anchor="start" font-family='"Liberation Serif", serif' font-size="21.20" font-weight="normal" font-style="normal" fill="#a5c11f" stroke="#a5c11f" stroke-width="0.30">ERF</text>
<text transform="translate(228.20 265.40)" text-anchor="start" font-family='"Liberation Serif", serif' font-size="7.20" font-weight="normal" font-style="normal" fill="#a6ba2c" stroke="#a6ba2c" stroke-width="0.10">NAC</text>
<text transform="translate(220.60 265.60)" text-anchor="start" font-family='"Liberation Serif", serif' font-size="5.60" font-weight="normal" font-style="normal" fill="#2a9de6" stroke="#2a9de6" stroke-width="0.08">Dof</text>
<text transform="translate(239.60 265.60)" text-anchor="start" font-family='"Liberation Serif", serif' font-size="4.60" font-weight="normal" font-style="normal" fill="#2a9de6" stroke="#2a9de6" stroke-width="0.06">TCP</text>
<text transform="translate(217.20 279.20) rotate(-90)" text-anchor="start" font-family='"Liberation Serif", serif' font-size="6.80" font-weight="normal" font-style="normal" fill="#f56ad0" stroke="#f56ad0" stroke-width="0.10">MYB</text>
<text transform="translate(227.90 286.40)" text-anchor="start" font-family='"Liberation Serif", serif' font-size="3.00" font-weight="normal" font-style="normal" fill="#2a9de6" stroke="#2a9de6" stroke-width="0.04">bzip</text>
<rect x="271.0" y="260.0" width="49.0" height="27.5" fill="#fcfeff"/>
<text transform="translate(281.20 283.40)" text-anchor="start" font-family='"Liberation Serif", serif' font-size="18.60" font-weight="normal" font-style="normal" fill="#f56ad0" stroke="#f56ad0" stroke-width="0.26">ERF</text>
<text transform="translate(286.50 260.60) rotate(90)" text-anchor="start" font-family='"Liberation Serif", serif' font-size="7.00" font-weight="normal" font-style="normal" fill="#f56ad0" stroke="#f56ad0" stroke-width="0.10">Dof</text>
<text transform="translate(295.40 267.00)" text-anchor="start" font-family='"Liberation Serif", serif' font-size="5.00" font-weight="normal" font-style="normal" fill="#f56ad0" stroke="#f56ad0" stroke-width="0.07">HSF</text>
<text transform="translate(293.20 270.40)" text-anchor="start" font-family='"Liberation Serif", serif' font-size="3.60" font-weight="normal" font-style="normal" fill="#cfe6f6" stroke="#cfe6f6" stroke-width="0.05">WRKY</text>
<text transform="translate(291.60 286.40)" text-anchor="start" font-family='"Liberation Serif", serif' font-size="3.40" font-weight="normal" font-style="normal" fill="#c8d878" stroke="#c8d878" stroke-width="0.05">GATA</text>
<text transform="translate(300.60 286.40)" text-anchor="start" font-family='"Liberation Serif", serif' font-size="3.40" font-weight="normal" font-style="normal" fill="#2a9de6" stroke="#2a9de6" stroke-width="0.05">bzip</text>
<rect x="337.0" y="259.0" width="52.0" height="28.0" fill="#fcfeff"/>
<text transform="translate(349.50 279.10)" text-anchor="start" font-family='"Liberation Serif", serif' font-size="15.90" font-weight="normal" font-style="normal" fill="#1e9be8" stroke="#1e9be8" stroke-width="0.22">ERF</text>
<text transform="translate(346.40 278.60) rotate(-90)" text-anchor="start" font-family='"Liberation Serif", serif' font-size="8.40" font-weight="normal" font-style="normal" fill="#a6ba2c" stroke="#a6ba2c" stroke-width="0.12">bzip</text>
<text transform="translate(385.60 279.70) rotate(-90)" text-anchor="start" font-family='"Liberation Serif", serif' font-size="6.50" font-weight="normal" font-style="normal" fill="#f58ad6" stroke="#f58ad6" stroke-width="0.09">NAC</text>
<text transform="translate(360.40 267.00)" text-anchor="start" font-family='"Liberation Serif", serif' font-size="4.00" font-weight="normal" font-style="normal" fill="#2a9de6" stroke="#2a9de6" stroke-width="0.06">WRKY</text>
<text transform="translate(356.40 285.60)" text-anchor="start" font-family='"Liberation Serif", serif' font-size="6.40" font-weight="normal" font-style="normal" fill="#a6ba2c" stroke="#a6ba2c" stroke-width="0.09">bhlh</text>
<text transform="translate(362.60 263.20)" text-anchor="start" font-family='"Liberation Serif", serif' font-size="2.80" font-weight="normal" font-style="normal" fill="#f8a8e0" stroke="#f8a8e0" stroke-width="0.04">TCP</text>
<text transform="translate(372.80 284.20) rotate(-90)" text-anchor="start" font-family='"Liberation Serif", serif' font-size="2.80" font-weight="normal" font-style="normal" fill="#f8a8e0" stroke="#f8a8e0" stroke-width="0.04">Dof</text>
<rect x="13.7" y="364.4" width="45.9" height="26.6" fill="#fcfeff"/>
<text transform="translate(43.20 391.40) rotate(-90)" text-anchor="start" font-family='"Liberation Serif", serif' font-size="14.00" font-weight="normal" font-style="normal" fill="#f760d2" stroke="#f760d2" stroke-width="0.20">ERF</text>
<text transform="translate(32.30 384.50) rotate(-90)" text-anchor="start" font-family='"Liberation Serif", serif' font-size="5.40" font-weight="normal" font-style="normal" fill="#a6ba2c" stroke="#a6ba2c" stroke-width="0.08">MYB</text>
<text transform="translate(43.60 380.40)" text-anchor="start" font-family='"Liberation Serif", serif' font-size="5.00" font-weight="normal" font-style="normal" fill="#f09ad8" stroke="#f09ad8" stroke-width="0.07">bzip</text>
<text transform="translate(35.00 376.80)" text-anchor="start" font-family='"Liberation Serif", serif' font-size="4.40" font-weight="normal" font-style="normal" fill="#9fd0f2" stroke="#9fd0f2" stroke-width="0.06">NAC</text>
<text transform="translate(42.40 376.60)" text-anchor="start" font-family='"Liberation Serif", serif' font-size="3.00" font-weight="normal" font-style="normal" fill="#c8d878" stroke="#c8d878" stroke-width="0.04">Dof</text>
<rect x="77.0" y="363.0" width="52.0" height="30.0" fill="#fcfeff"/>
<text transform="translate(84.30 387.80)" text-anchor="start" font-family='"Liberation Serif", serif' font-size="16.40" font-weight="normal" font-style="normal" fill="#9fd0f2" stroke="#9fd0f2" stroke-width="0.23">NAC</text>
<text transform="translate(96.60 373.60)" text-anchor="start" font-family='"Liberation Serif", serif' font-size="8.00" font-weight="normal" font-style="normal" fill="#f56ad0" stroke="#f56ad0" stroke-width="0.11">bzip</text>
<text transform="translate(89.80 365.80) rotate(90)" text-anchor="start" font-family='"Liberation Serif", serif' font-size="5.80" font-weight="normal" font-style="normal" fill="#a6ba2c" stroke="#a6ba2c" stroke-width="0.08">Dof</text>
<text transform="translate(82.80 385.10) rotate(-90)" text-anchor="start" font-family='"Liberation Serif", serif' font-size="5.30" font-weight="bold" font-style="normal" fill="#2a9de6" stroke="#2a9de6" stroke-width="0.07">MYB</text>
<text transform="translate(125.20 387.80) rotate(-90)" text-anchor="start" font-family='"Liberation Serif", serif' font-size="7.00" font-weight="bold" font-style="normal" fill="#2a9de6" stroke="#2a9de6" stroke-width="0.10">ERF</text>
<text transform="translate(102.80 392.00) rotate(-90)" text-anchor="start" font-family='"Liberation Serif", serif' font-size="3.00" font-weight="normal" font-style="normal" fill="#f8a8e0" stroke="#f8a8e0" stroke-width="0.04">TCP</text>
<rect x="146.4" y="365.8" width="43.4" height="25.1" fill="#fcfeff"/>
<text transform="translate(170.90 391.40) rotate(-90)" text-anchor="start" font-family='"Liberation Serif", serif' font-size="8.50" font-weight="normal" font-style="normal" fill="#f56ad0" stroke="#f56ad0" stroke-width="0.12">WRKY</text>
<text transform="translate(157.00 370.40) rotate(90)" text-anchor="start" font-family='"Liberation Serif", serif' font-size="7.50" font-weight="normal" font-style="normal" fill="#b5c840" stroke="#b5c840" stroke-width="0.10">NAC</text>
<text transform="translate(172.90 373.50) rotate(90)" text-anchor="start" font-family='"Liberation Serif", serif' font-size="5.80" font-weight="bold" font-style="normal" fill="#2a9de6" stroke="#2a9de6" stroke-width="0.08">ERF</text>
<text transform="translate(179.60 375.30) rotate(90)" text-anchor="start" font-family='"Liberation Serif", serif' font-size="4.00" font-weight="normal" font-style="normal" fill="#2a9de6" stroke="#2a9de6" stroke-width="0.06">TCP</text>
<rect x="211.0" y="365.5" width="50.0" height="27.0" fill="#fcfeff"/>
<text transform="translate(229.30 366.90) rotate(90)" text-anchor="start" font-family='"Liberation Serif", serif' font-size="13.90" font-weight="normal" font-style="normal" fill="#a4d6fa" stroke="#a4d6fa" stroke-width="0.19">ERF</text>
<text transform="translate(240.70 377.00)" text-anchor="start" font-family='"Liberation Serif", serif' font-size="4.40" font-weight="bold" font-style="normal" fill="#a6ba2c" stroke="#a6ba2c" stroke-width="0.06">MYB</text>
<text transform="translate(240.70 380.80)" text-anchor="start" font-family='"Liberation Serif", serif' font-size="4.00" font-weight="normal" font-style="normal" fill="#a6ba2c" stroke="#a6ba2c" stroke-width="0.06">Dof</text>
<text transform="translate(225.70 373.50) rotate(90)" text-anchor="start" font-family='"Liberation Serif", serif' font-size="4.00" font-weight="normal" font-style="normal" fill="#a6ba2c" stroke="#a6ba2c" stroke-width="0.06">bzip</text>
<text transform="translate(223.50 374.20) rotate(90)" text-anchor="start" font-family='"Liberation Serif", serif' font-size="3.00" font-weight="normal" font-style="normal" fill="#f8a8e0" stroke="#f8a8e0" stroke-width="0.04">NAC</text>
<rect x="276.0" y="365.0" width="52.0" height="27.5" fill="#fcfeff"/>
<text transform="translate(284.80 383.00)" text-anchor="start" font-family='"Liberation Serif", serif' font-size="11.60" font-weight="normal" font-style="normal" fill="#a6ba2c" stroke="#a6ba2c" stroke-width="0.16">MYB</text>
<text transform="translate(323.20 391.40) rotate(-90)" text-anchor="start" font-family='"Liberation Serif", serif' font-size="13.40" font-weight="normal" font-style="normal" fill="#1e9be8" stroke="#1e9be8" stroke-width="0.19">ERF</text>
<text transform="translate(291.00 374.60)" text-anchor="start" font-family='"Liberation Serif", serif' font-size="7.30" font-weight="normal" font-style="normal" fill="#a6ba2c" stroke="#a6ba2c" stroke-width="0.10">NAC</text>
<text transform="translate(279.00 374.70)" text-anchor="start" font-family='"Liberation Serif", serif' font-size="7.30" font-weight="normal" font-style="normal" fill="#9fd0f2" stroke="#9fd0f2" stroke-width="0.10">Dof</text>
<text transform="translate(290.40 389.20)" text-anchor="start" font-family='"Liberation Serif", serif' font-size="7.00" font-weight="normal" font-style="normal" fill="#9fd0f2" stroke="#9fd0f2" stroke-width="0.10">bzip</text>
<text transform="translate(303.50 387.80)" text-anchor="start" font-family='"Liberation Serif", serif' font-size="4.80" font-weight="bold" font-style="normal" fill="#f58ad6" stroke="#f58ad6" stroke-width="0.07">TCP</text>
<text transform="translate(294.20 368.40)" text-anchor="start" font-family='"Liberation Serif", serif' font-size="3.60" font-weight="normal" font-style="normal" fill="#2a9de6" stroke="#2a9de6" stroke-width="0.05">bHLH</text>
<text transform="translate(306.40 374.00)" text-anchor="start" font-family='"Liberation Serif", serif' font-size="2.80" font-weight="normal" font-style="normal" fill="#f8a8e0" stroke="#f8a8e0" stroke-width="0.04">HSF</text>
<rect x="342.0" y="365.5" width="50.0" height="27.5" fill="#fcfeff"/>
<text transform="translate(357.30 366.90) rotate(90)" text-anchor="start" font-family='"Liberation Serif", serif' font-size="13.90" font-weight="normal" font-style="normal" fill="#f65ed2" stroke="#f65ed2" stroke-width="0.19">ERF</text>
<text transform="translate(367.80 382.50)" text-anchor="start" font-family='"Liberation Serif", serif' font-size="6.20" font-weight="bold" font-style="normal" fill="#a6ba2c" stroke="#a6ba2c" stroke-width="0.09">WRKY</text>
<text transform="translate(367.80 390.20)" text-anchor="start" font-family='"Liberation Serif", serif' font-size="7.40" font-weight="normal" font-style="normal" fill="#f56ad0" stroke="#f56ad0" stroke-width="0.10">Dof</text>
<text transform="translate(367.80 377.60)" text-anchor="start" font-family='"Liberation Serif", serif' font-size="6.40" font-weight="normal" font-style="normal" fill="#9fd0f2" stroke="#9fd0f2" stroke-width="0.09">MYB</text>
<text transform="translate(367.80 372.60)" text-anchor="start" font-family='"Liberation Serif", serif' font-size="4.00" font-weight="normal" font-style="normal" fill="#2a9de6" stroke="#2a9de6" stroke-width="0.06">NAC</text>
<text transform="translate(351.20 370.60) rotate(90)" text-anchor="start" font-family='"Liberation Serif", serif' font-size="8.00" font-weight="normal" font-style="normal" fill="#1e9be8" stroke="#1e9be8" stroke-width="0.11">bzip</text>
<text transform="translate(350.00 381.60) rotate(-90)" text-anchor="start" font-family='"Liberation Serif", serif' font-size="4.00" font-weight="normal" font-style="normal" fill="#c8d878" stroke="#c8d878" stroke-width="0.06">TCP</text>
<text transform="translate(350.00 388.00)" text-anchor="start" font-family='"Liberation Serif", serif' font-size="2.60" font-weight="normal" font-style="normal" fill="#f8a8e0" stroke="#f8a8e0" stroke-width="0.04">bHLH</text>
</g>
<g id="partC">
<ellipse cx="0" cy="0" rx="20.5" ry="44.6" transform="translate(480.70 67.10) rotate(0.0)" fill="#ea9fb6" fill-opacity="0.52" stroke="#383838" stroke-width="0.6"/>
<ellipse cx="0" cy="0" rx="20.5" ry="44.6" transform="translate(488.50 80.30) rotate(-110.0)" fill="#f7c55c" fill-opacity="0.52" stroke="#383838" stroke-width="0.6"/>
<ellipse cx="0" cy="0" rx="20.5" ry="44.6" transform="translate(479.90 90.90) rotate(145.0)" fill="#74c2a0" fill-opacity="0.52" stroke="#383838" stroke-width="0.6"/>
<ellipse cx="0" cy="0" rx="20.5" ry="44.6" transform="translate(464.10 87.60) rotate(35.0)" fill="#76a9dd" fill-opacity="0.52" stroke="#383838" stroke-width="0.6"/>
<ellipse cx="0" cy="0" rx="20.5" ry="44.6" transform="translate(466.45 72.50) rotate(-72.5)" fill="#ec6a36" fill-opacity="0.52" stroke="#383838" stroke-width="0.6"/>
<text x="479.8" y="39.5" text-anchor="middle" font-family='"Liberation Sans", sans-serif' font-size="5.0" fill="#2a2a2a">48</text>
<text x="434.5" y="66.8" text-anchor="middle" font-family='"Liberation Sans", sans-serif' font-size="5.0" fill="#2a2a2a">17</text>
<text x="516.3" y="74.1" text-anchor="middle" font-family='"Liberation Sans", sans-serif' font-size="5.0" fill="#2a2a2a">16</text>
<text x="445.5" y="117.1" text-anchor="middle" font-family='"Liberation Sans", sans-serif' font-size="5.0" fill="#2a2a2a">39</text>
<text x="495.5" y="118.7" text-anchor="middle" font-family='"Liberation Sans", sans-serif' font-size="5.0" fill="#2a2a2a">30</text>
<text x="474.5" y="83.5" text-anchor="middle" font-family='"Liberation Sans", sans-serif' font-size="5.0" fill="#2a2a2a">13</text>
<text x="484.5" y="55.2" text-anchor="middle" font-family='"Liberation Sans", sans-serif' font-size="5.0" fill="#2a2a2a">55</text>
<text x="465.0" y="53.6" text-anchor="middle" font-family='"Liberation Sans", sans-serif' font-size="5.0" fill="#2a2a2a">17</text>
<text x="461.3" y="59.0" text-anchor="middle" font-family='"Liberation Sans", sans-serif' font-size="5.0" fill="#2a2a2a">5</text>
<text x="476.0" y="59.0" text-anchor="middle" font-family='"Liberation Sans", sans-serif' font-size="5.0" fill="#2a2a2a">3</text>
<text x="452.5" y="65.3" text-anchor="middle" font-family='"Liberation Sans", sans-serif' font-size="5.0" fill="#2a2a2a">10</text>
<text x="466.6" y="65.3" text-anchor="middle" font-family='"Liberation Sans", sans-serif' font-size="5.0" fill="#2a2a2a">13</text>
<text x="489.6" y="69.3" text-anchor="middle" font-family='"Liberation Sans", sans-serif' font-size="5.0" fill="#2a2a2a">4</text>
<text x="492.4" y="62.1" text-anchor="middle" font-family='"Liberation Sans", sans-serif' font-size="5.0" fill="#2a2a2a">8</text>
<text x="497.0" y="63.7" text-anchor="middle" font-family='"Liberation Sans", sans-serif' font-size="5.0" fill="#2a2a2a">16</text>
<text x="452.5" y="76.3" text-anchor="middle" font-family='"Liberation Sans", sans-serif' font-size="5.0" fill="#2a2a2a">11</text>
<text x="499.0" y="77.2" text-anchor="middle" font-family='"Liberation Sans", sans-serif' font-size="5.0" fill="#2a2a2a">5</text>
<text x="503.7" y="84.8" text-anchor="middle" font-family='"Liberation Sans", sans-serif' font-size="5.0" fill="#2a2a2a">5</text>
<text x="447.1" y="86.3" text-anchor="middle" font-family='"Liberation Sans", sans-serif' font-size="5.0" fill="#2a2a2a">3</text>
<text x="450.9" y="90.2" text-anchor="middle" font-family='"Liberation Sans", sans-serif' font-size="5.0" fill="#2a2a2a">5</text>
<text x="455.6" y="87.3" text-anchor="middle" font-family='"Liberation Sans", sans-serif' font-size="5.0" fill="#2a2a2a">6</text>
<text x="494.3" y="92.0" text-anchor="middle" font-family='"Liberation Sans", sans-serif' font-size="5.0" fill="#2a2a2a">4</text>
<text x="501.2" y="94.2" text-anchor="middle" font-family='"Liberation Sans", sans-serif' font-size="5.0" fill="#2a2a2a">5</text>
<text x="499.6" y="99.8" text-anchor="middle" font-family='"Liberation Sans", sans-serif' font-size="5.0" fill="#2a2a2a">13</text>
<text x="450.9" y="99.8" text-anchor="middle" font-family='"Liberation Sans", sans-serif' font-size="5.0" fill="#2a2a2a">16</text>
<text x="462.8" y="103.9" text-anchor="middle" font-family='"Liberation Sans", sans-serif' font-size="5.0" fill="#2a2a2a">21</text>
<text x="474.5" y="103.9" text-anchor="middle" font-family='"Liberation Sans", sans-serif' font-size="5.0" fill="#2a2a2a">43</text>
<text x="490.2" y="103.0" text-anchor="middle" font-family='"Liberation Sans", sans-serif' font-size="5.0" fill="#2a2a2a">26</text>
<text x="468.2" y="111.8" text-anchor="middle" font-family='"Liberation Sans", sans-serif' font-size="5.0" fill="#2a2a2a">2</text>
<text x="474.5" y="109.9" text-anchor="middle" font-family='"Liberation Sans", sans-serif' font-size="5.0" fill="#2a2a2a">32</text>
<text x="481.7" y="110.8" text-anchor="middle" font-family='"Liberation Sans", sans-serif' font-size="5.0" fill="#2a2a2a">41</text>
<text transform="translate(483.00 18.80)" text-anchor="start" font-family='"Liberation Serif", serif' font-size="5.70" font-weight="bold" font-style="italic" fill="#111" stroke="#111" stroke-width="0.12">DcaABF1</text>
<text transform="translate(416.30 44.90)" text-anchor="start" font-family='"Liberation Serif", serif' font-size="5.70" font-weight="bold" font-style="italic" fill="#111" stroke="#111" stroke-width="0.12">DcaDPBF2</text>
<text transform="translate(518.50 55.00)" text-anchor="start" font-family='"Liberation Serif", serif' font-size="5.70" font-weight="bold" font-style="italic" fill="#111" stroke="#111" stroke-width="0.12">DcaABF2</text>
<text transform="translate(411.60 117.90)" text-anchor="start" font-family='"Liberation Serif", serif' font-size="5.70" font-weight="bold" font-style="italic" fill="#111" stroke="#111" stroke-width="0.12">DcaABI5</text>
<text transform="translate(514.70 116.60)" text-anchor="start" font-family='"Liberation Serif", serif' font-size="5.70" font-weight="bold" font-style="italic" fill="#111" stroke="#111" stroke-width="0.12">DcaABF3</text>
<ellipse cx="0" cy="0" rx="51.2" ry="30.6" transform="translate(458.20 220.40) rotate(45)" fill="#ea9fb8" fill-opacity="0.52" stroke="#383838" stroke-width="0.6"/>
<ellipse cx="0" cy="0" rx="51.2" ry="30.6" transform="translate(475.60 205.00) rotate(45)" fill="#f7cd69" fill-opacity="0.52" stroke="#383838" stroke-width="0.6"/>
<ellipse cx="0" cy="0" rx="51.2" ry="30.6" transform="translate(476.80 205.20) rotate(-45)" fill="#7fc8ab" fill-opacity="0.52" stroke="#383838" stroke-width="0.6"/>
<ellipse cx="0" cy="0" rx="51.2" ry="30.6" transform="translate(494.60 220.40) rotate(-45)" fill="#7fb4e6" fill-opacity="0.52" stroke="#383838" stroke-width="0.6"/>
<text x="427.3" y="206.5" text-anchor="middle" font-family='"Liberation Sans", sans-serif' font-size="5.0" fill="#2a2a2a">70</text>
<text x="450.9" y="172.9" text-anchor="middle" font-family='"Liberation Sans", sans-serif' font-size="5.0" fill="#2a2a2a">59</text>
<text x="501.2" y="172.9" text-anchor="middle" font-family='"Liberation Sans", sans-serif' font-size="5.0" fill="#2a2a2a">25</text>
<text x="525.7" y="206.5" text-anchor="middle" font-family='"Liberation Sans", sans-serif' font-size="5.0" fill="#2a2a2a">62</text>
<text x="439.9" y="189.3" text-anchor="middle" font-family='"Liberation Sans", sans-serif' font-size="5.0" fill="#2a2a2a">74</text>
<text x="476.0" y="181.4" text-anchor="middle" font-family='"Liberation Sans", sans-serif' font-size="5.0" fill="#2a2a2a">19</text>
<text x="513.8" y="189.3" text-anchor="middle" font-family='"Liberation Sans", sans-serif' font-size="5.0" fill="#2a2a2a">19</text>
<text x="450.9" y="205.9" text-anchor="middle" font-family='"Liberation Sans", sans-serif' font-size="5.0" fill="#2a2a2a">36</text>
<text x="499.6" y="205.9" text-anchor="middle" font-family='"Liberation Sans", sans-serif' font-size="5.0" fill="#2a2a2a">4</text>
<text x="476.0" y="222.3" text-anchor="middle" font-family='"Liberation Sans", sans-serif' font-size="5.0" fill="#2a2a2a">11</text>
<text x="442.4" y="231.1" text-anchor="middle" font-family='"Liberation Sans", sans-serif' font-size="5.0" fill="#2a2a2a">20</text>
<text x="509.0" y="231.1" text-anchor="middle" font-family='"Liberation Sans", sans-serif' font-size="5.0" fill="#2a2a2a">24</text>
<text x="460.3" y="241.1" text-anchor="middle" font-family='"Liberation Sans", sans-serif' font-size="5.0" fill="#2a2a2a">29</text>
<text x="492.4" y="241.1" text-anchor="middle" font-family='"Liberation Sans", sans-serif' font-size="5.0" fill="#2a2a2a">31</text>
<text x="476.0" y="256.2" text-anchor="middle" font-family='"Liberation Sans", sans-serif' font-size="5.0" fill="#2a2a2a">34</text>
<text transform="translate(439.90 157.00)" text-anchor="start" font-family='"Liberation Serif", serif' font-size="5.70" font-weight="bold" font-style="italic" fill="#111" stroke="#111" stroke-width="0.12">AshABF2</text>
<text transform="translate(491.10 156.30)" text-anchor="start" font-family='"Liberation Serif", serif' font-size="5.70" font-weight="bold" font-style="italic" fill="#111" stroke="#111" stroke-width="0.12">AshABI5</text>
<text transform="translate(421.00 257.60)" text-anchor="start" font-family='"Liberation Serif", serif' font-size="5.70" font-weight="bold" font-style="italic" fill="#111" stroke="#111" stroke-width="0.12">AshABF1</text>
<text transform="translate(512.20 255.40)" text-anchor="start" font-family='"Liberation Serif", serif' font-size="5.70" font-weight="bold" font-style="italic" fill="#111" stroke="#111" stroke-width="0.12">AshDPBF2</text>
<defs><clipPath id="cG"><circle cx="479.8" cy="320.7" r="33.1" /></clipPath><clipPath id="cO"><circle cx="500.4" cy="357.4" r="33.6" /></clipPath><clipPath id="cOG" clip-path="url(#cG)"><circle cx="500.4" cy="357.4" r="33.6" /></clipPath></defs>
<circle cx="479.8" cy="320.7" r="33.1" fill="#cfcfcf"/>
<circle cx="459.5" cy="357.4" r="33.6" fill="#74a5de"/>
<circle cx="500.4" cy="357.4" r="33.6" fill="#f5a26c"/>
<circle cx="459.5" cy="357.4" r="33.6" fill="#8c9fbc" clip-path="url(#cG)"/>
<circle cx="500.4" cy="357.4" r="33.6" fill="#c9a088" clip-path="url(#cG)"/>
<circle cx="459.5" cy="357.4" r="33.6" fill="#c8705a" clip-path="url(#cO)"/>
<g clip-path="url(#cG)"><circle cx="459.5" cy="357.4" r="33.6" fill="#a88880" clip-path="url(#cO)"/></g>
<circle cx="479.8" cy="320.7" r="33.1" fill="none" stroke="#555" stroke-width="0.5"/>
<circle cx="459.5" cy="357.4" r="33.6" fill="none" stroke="#555" stroke-width="0.5"/>
<circle cx="500.4" cy="357.4" r="33.6" fill="none" stroke="#555" stroke-width="0.5"/>
<text x="479.8" y="310.9" text-anchor="middle" font-family='"Liberation Sans", sans-serif' font-size="5.0" fill="#2a2a2a">73</text>
<text x="462.8" y="339.2" text-anchor="middle" font-family='"Liberation Sans", sans-serif' font-size="5.0" fill="#2a2a2a">53</text>
<text x="496.5" y="339.2" text-anchor="middle" font-family='"Liberation Sans", sans-serif' font-size="5.0" fill="#2a2a2a">26</text>
<text x="479.8" y="347.7" text-anchor="middle" font-family='"Liberation Sans", sans-serif' font-size="5.0" fill="#2a2a2a">55</text>
<text x="446.2" y="367.5" text-anchor="middle" font-family='"Liberation Sans", sans-serif' font-size="5.0" fill="#2a2a2a">83</text>
<text x="479.8" y="367.5" text-anchor="middle" font-family='"Liberation Sans", sans-serif' font-size="5.0" fill="#2a2a2a">39</text>
<text x="513.1" y="367.5" text-anchor="middle" font-family='"Liberation Sans", sans-serif' font-size="5.0" fill="#2a2a2a">72</text>
<text transform="translate(468.20 283.90)" text-anchor="start" font-family='"Liberation Serif", serif' font-size="5.70" font-weight="bold" font-style="italic" fill="#111" stroke="#111" stroke-width="0.12">PeqABI5</text>
<text transform="translate(415.70 386.20)" text-anchor="start" font-family='"Liberation Serif", serif' font-size="5.70" font-weight="bold" font-style="italic" fill="#111" stroke="#111" stroke-width="0.12">PeqABF1</text>
<text transform="translate(523.80 386.20)" text-anchor="start" font-family='"Liberation Serif", serif' font-size="5.70" font-weight="bold" font-style="italic" fill="#111" stroke="#111" stroke-width="0.12">PeqABF2</text>
</g>
</svg>
</body></html>
